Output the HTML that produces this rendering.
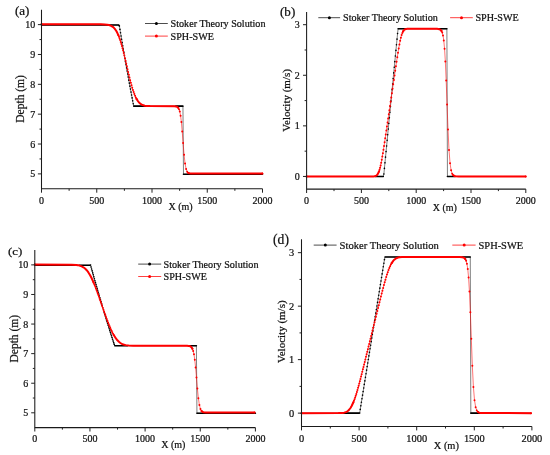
<!DOCTYPE html>
<html><head><meta charset="utf-8"><style>
html,body{margin:0;padding:0;background:#fff;}
svg{display:block;}
text{stroke:#111;stroke-width:0.22px;}
</style></head><body>
<svg width="550" height="455" viewBox="0 0 550 455">
<rect width="550" height="455" fill="#fff"/>
<polyline points="41.5,25.02 42.05,25.02 42.6,25.02 43.16,25.02 43.71,25.02 44.26,25.02 44.81,25.02 45.37,25.02 45.92,25.02 46.47,25.02 47.02,25.02 47.58,25.02 48.13,25.02 48.68,25.02 49.23,25.02 49.79,25.02 50.34,25.02 50.89,25.02 51.45,25.02 52,25.02 52.55,25.02 53.1,25.02 53.66,25.02 54.21,25.02 54.76,25.02 55.31,25.02 55.87,25.02 56.42,25.02 56.97,25.02 57.52,25.02 58.08,25.02 58.63,25.02 59.18,25.02 59.73,25.02 60.28,25.02 60.84,25.02 61.39,25.02 61.94,25.02 62.5,25.02 63.05,25.02 63.6,25.02 64.15,25.02 64.7,25.02 65.26,25.02 65.81,25.02 66.36,25.02 66.91,25.02 67.47,25.02 68.02,25.02 68.57,25.02 69.12,25.02 69.68,25.02 70.23,25.02 70.78,25.02 71.34,25.02 71.89,25.02 72.44,25.02 72.99,25.02 73.55,25.02 74.1,25.02 74.65,25.02 75.2,25.02 75.75,25.02 76.31,25.02 76.86,25.02 77.41,25.02 77.97,25.02 78.52,25.02 79.07,25.02 79.62,25.02 80.17,25.02 80.73,25.02 81.28,25.02 81.83,25.02 82.38,25.02 82.94,25.02 83.49,25.02 84.04,25.02 84.59,25.02 85.15,25.02 85.7,25.02 86.25,25.02 86.81,25.02 87.36,25.02 87.91,25.02 88.46,25.02 89.02,25.02 89.57,25.02 90.12,25.02 90.67,25.02 91.22,25.02 91.78,25.02 92.33,25.02 92.88,25.02 93.44,25.02 93.99,25.02 94.54,25.02 95.09,25.02 95.65,25.02 96.2,25.02 96.75,25.02 97.3,25.02 97.85,25.02 98.41,25.02 98.96,25.02 99.51,25.02 100.06,25.02 100.62,25.02 101.17,25.02 101.72,25.02 102.28,25.02 102.83,25.02 103.38,25.02 103.93,25.02 104.48,25.02 105.04,25.02 105.59,25.02 106.14,25.02 106.69,25.02 107.25,25.02 107.8,25.02 108.35,25.02 108.91,25.02 109.46,25.02 110.01,25.02 110.56,25.02 111.11,25.02 111.67,25.02 112.22,25.02 112.77,25.02 113.33,25.02 113.88,25.02 114.43,25.02 114.98,25.02 115.53,25.02 116.09,25.02 116.64,25.02 117.19,25.02 117.75,25.02 118.3,25.02 118.85,25.02 119.4,26.05 119.95,29.39 120.51,32.7 121.06,35.99 121.61,39.27 122.17,42.52 122.72,45.76 123.27,48.98 123.82,52.18 124.38,55.36 124.93,58.52 125.48,61.66 126.03,64.79 126.58,67.89 127.14,70.98 127.69,74.05 128.24,77.1 128.8,80.13 129.35,83.14 129.9,86.14 130.45,89.11 131,92.07 131.56,95 132.11,97.92 132.66,100.82 133.22,103.7 133.77,106.14 134.32,106.14 134.87,106.14 135.43,106.14 135.98,106.14 136.53,106.14 137.08,106.14 137.63,106.14 138.19,106.14 138.74,106.14 139.29,106.14 139.84,106.14 140.4,106.14 140.95,106.14 141.5,106.14 142.06,106.14 142.61,106.14 143.16,106.14 143.71,106.14 144.26,106.14 144.82,106.14 145.37,106.14 145.92,106.14 146.47,106.14 147.03,106.14 147.58,106.14 148.13,106.14 148.69,106.14 149.24,106.14 149.79,106.14 150.34,106.14 150.89,106.14 151.45,106.14 152,106.14 152.55,106.14 153.11,106.14 153.66,106.14 154.21,106.14 154.76,106.14 155.31,106.14 155.87,106.14 156.42,106.14 156.97,106.14 157.53,106.14 158.08,106.14 158.63,106.14 159.18,106.14 159.74,106.14 160.29,106.14 160.84,106.14 161.39,106.14 161.94,106.14 162.5,106.14 163.05,106.14 163.6,106.14 164.16,106.14 164.71,106.14 165.26,106.14 165.81,106.14 166.37,106.14 166.92,106.14 167.47,106.14 168.02,106.14 168.57,106.14 169.13,106.14 169.68,106.14 170.23,106.14 170.78,106.14 171.34,106.14 171.89,106.14 172.44,106.14 173,106.14 173.55,106.14 174.1,106.14 174.65,106.14 175.21,106.14 175.76,106.14 176.31,106.14 176.86,106.14 177.41,106.14 177.97,106.14 178.52,106.14 179.07,106.14 179.62,106.14 180.18,106.14 180.73,106.14 181.28,106.14 181.84,106.14 182.39,106.14 182.94,106.14 183.49,174.28 184.04,174.28 184.6,174.28 185.15,174.28 185.7,174.28 186.25,174.28 186.81,174.28 187.36,174.28 187.91,174.28 188.47,174.28 189.02,174.28 189.57,174.28 190.12,174.28 190.68,174.28 191.23,174.28 191.78,174.28 192.33,174.28 192.88,174.28 193.44,174.28 193.99,174.28 194.54,174.28 195.09,174.28 195.65,174.28 196.2,174.28 196.75,174.28 197.31,174.28 197.86,174.28 198.41,174.28 198.96,174.28 199.51,174.28 200.07,174.28 200.62,174.28 201.17,174.28 201.72,174.28 202.28,174.28 202.83,174.28 203.38,174.28 203.94,174.28 204.49,174.28 205.04,174.28 205.59,174.28 206.15,174.28 206.7,174.28 207.25,174.28 207.8,174.28 208.35,174.28 208.91,174.28 209.46,174.28 210.01,174.28 210.56,174.28 211.12,174.28 211.67,174.28 212.22,174.28 212.78,174.28 213.33,174.28 213.88,174.28 214.43,174.28 214.99,174.28 215.54,174.28 216.09,174.28 216.64,174.28 217.19,174.28 217.75,174.28 218.3,174.28 218.85,174.28 219.41,174.28 219.96,174.28 220.51,174.28 221.06,174.28 221.62,174.28 222.17,174.28 222.72,174.28 223.27,174.28 223.82,174.28 224.38,174.28 224.93,174.28 225.48,174.28 226.03,174.28 226.59,174.28 227.14,174.28 227.69,174.28 228.25,174.28 228.8,174.28 229.35,174.28 229.9,174.28 230.46,174.28 231.01,174.28 231.56,174.28 232.11,174.28 232.66,174.28 233.22,174.28 233.77,174.28 234.32,174.28 234.88,174.28 235.43,174.28 235.98,174.28 236.53,174.28 237.09,174.28 237.64,174.28 238.19,174.28 238.74,174.28 239.29,174.28 239.85,174.28 240.4,174.28 240.95,174.28 241.5,174.28 242.06,174.28 242.61,174.28 243.16,174.28 243.72,174.28 244.27,174.28 244.82,174.28 245.37,174.28 245.93,174.28 246.48,174.28 247.03,174.28 247.58,174.28 248.13,174.28 248.69,174.28 249.24,174.28 249.79,174.28 250.34,174.28 250.9,174.28 251.45,174.28 252,174.28 252.56,174.28 253.11,174.28 253.66,174.28 254.21,174.28 254.76,174.28 255.32,174.28 255.87,174.28 256.42,174.28 256.98,174.28 257.53,174.28 258.08,174.28 258.63,174.28 259.19,174.28 259.74,174.28 260.29,174.28 260.84,174.28 261.39,174.28 261.95,174.28 262.5,174.28" fill="none" stroke="#000" stroke-width="0.5"/>
<path d="M41.5 25.02 107.8 25.02M109.46 25.02 118.85 25.02 119.4 26.05M133.77 106.14 145.92 106.14M175.76 106.14 182.94 106.14M183.49 174.28 262.5 174.28" fill="none" stroke="#000" stroke-width="1.6" stroke-linecap="round" stroke-linejoin="round"/>
<path d="M119.14 29.39a0.82 0.82 0 1 0 1.64 0a0.82 0.82 0 1 0 -1.64 0M119.69 32.7a0.82 0.82 0 1 0 1.64 0a0.82 0.82 0 1 0 -1.64 0M120.24 35.99a0.82 0.82 0 1 0 1.64 0a0.82 0.82 0 1 0 -1.64 0M120.79 39.27a0.82 0.82 0 1 0 1.64 0a0.82 0.82 0 1 0 -1.64 0M121.35 42.52a0.82 0.82 0 1 0 1.64 0a0.82 0.82 0 1 0 -1.64 0M121.9 45.76a0.82 0.82 0 1 0 1.64 0a0.82 0.82 0 1 0 -1.64 0M122.45 48.98a0.82 0.82 0 1 0 1.64 0a0.82 0.82 0 1 0 -1.64 0M123 52.18a0.82 0.82 0 1 0 1.64 0a0.82 0.82 0 1 0 -1.64 0M124.11 58.52a0.82 0.82 0 1 0 1.64 0a0.82 0.82 0 1 0 -1.64 0M124.66 61.66a0.82 0.82 0 1 0 1.64 0a0.82 0.82 0 1 0 -1.64 0M125.21 64.79a0.82 0.82 0 1 0 1.64 0a0.82 0.82 0 1 0 -1.64 0M125.77 67.89a0.82 0.82 0 1 0 1.64 0a0.82 0.82 0 1 0 -1.64 0M126.32 70.98a0.82 0.82 0 1 0 1.64 0a0.82 0.82 0 1 0 -1.64 0M126.87 74.05a0.82 0.82 0 1 0 1.64 0a0.82 0.82 0 1 0 -1.64 0M127.42 77.1a0.82 0.82 0 1 0 1.64 0a0.82 0.82 0 1 0 -1.64 0M127.98 80.13a0.82 0.82 0 1 0 1.64 0a0.82 0.82 0 1 0 -1.64 0M128.53 83.14a0.82 0.82 0 1 0 1.64 0a0.82 0.82 0 1 0 -1.64 0M129.08 86.14a0.82 0.82 0 1 0 1.64 0a0.82 0.82 0 1 0 -1.64 0M129.63 89.11a0.82 0.82 0 1 0 1.64 0a0.82 0.82 0 1 0 -1.64 0M130.19 92.07a0.82 0.82 0 1 0 1.64 0a0.82 0.82 0 1 0 -1.64 0M130.74 95a0.82 0.82 0 1 0 1.64 0a0.82 0.82 0 1 0 -1.64 0M131.29 97.92a0.82 0.82 0 1 0 1.64 0a0.82 0.82 0 1 0 -1.64 0M131.84 100.82a0.82 0.82 0 1 0 1.64 0a0.82 0.82 0 1 0 -1.64 0M132.4 103.7a0.82 0.82 0 1 0 1.64 0a0.82 0.82 0 1 0 -1.64 0" fill="#000"/>
<polyline points="41.5,24.32 42.05,24.32 42.6,24.33 43.16,24.33 43.71,24.32 44.26,24.33 44.81,24.33 45.37,24.32 45.92,24.32 46.47,24.33 47.02,24.32 47.58,24.32 48.13,24.32 48.68,24.32 49.23,24.32 49.79,24.33 50.34,24.32 50.89,24.32 51.45,24.33 52,24.32 52.55,24.33 53.1,24.33 53.66,24.32 54.21,24.32 54.76,24.32 55.31,24.32 55.87,24.32 56.42,24.32 56.97,24.32 57.52,24.33 58.08,24.32 58.63,24.32 59.18,24.32 59.73,24.33 60.28,24.32 60.84,24.32 61.39,24.32 61.94,24.32 62.5,24.32 63.05,24.32 63.6,24.32 64.15,24.32 64.7,24.32 65.26,24.32 65.81,24.32 66.36,24.32 66.91,24.32 67.47,24.32 68.02,24.33 68.57,24.32 69.12,24.33 69.68,24.33 70.23,24.32 70.78,24.32 71.34,24.32 71.89,24.33 72.44,24.33 72.99,24.32 73.55,24.32 74.1,24.33 74.65,24.32 75.2,24.33 75.75,24.33 76.31,24.33 76.86,24.33 77.41,24.33 77.97,24.33 78.52,24.33 79.07,24.33 79.62,24.33 80.18,24.33 80.73,24.33 81.28,24.33 81.83,24.33 82.39,24.33 82.94,24.33 83.49,24.33 84.04,24.33 84.6,24.33 85.15,24.33 85.7,24.33 86.25,24.33 86.81,24.33 87.36,24.33 87.91,24.33 88.46,24.33 89.02,24.33 89.57,24.33 90.12,24.33 90.67,24.33 91.23,24.33 91.78,24.33 92.33,24.33 92.88,24.33 93.44,24.33 93.99,24.33 94.54,24.33 95.09,24.33 95.65,24.33 96.2,24.33 96.75,24.33 97.3,24.33 97.86,24.33 98.41,24.33 98.96,24.33 99.51,24.33 100.07,24.33 100.62,24.33 101.17,24.34 101.72,24.34 102.28,24.35 102.83,24.36 103.38,24.37 103.93,24.39 104.49,24.41 105.04,24.44 105.59,24.48 106.14,24.52 106.7,24.58 107.25,24.66 107.8,24.75 108.36,24.87 108.91,25.02 109.46,25.2 110.02,25.41 110.57,25.63 111.12,25.87 111.68,26.15 112.24,26.48 112.79,26.86 113.35,27.31 113.91,27.83 114.47,28.43 115.03,29.11 115.59,29.89 116.15,30.76 116.72,31.74 117.28,32.83 117.85,34.04 118.42,35.37 119,36.82 119.58,38.4 120.16,40.11 120.74,41.96 121.33,43.92 121.92,46.02 122.52,48.23 123.12,50.56 123.73,53 124.34,55.53 124.96,58.14 125.59,60.83 126.22,63.58 126.86,66.36 127.51,69.17 128.16,71.98 128.82,74.77 129.49,77.52 130.16,80.22 130.85,82.83 131.54,85.35 132.23,87.74 132.94,90 133.65,92.11 134.36,94.06 135.09,95.84 135.82,97.45 136.55,98.89 137.29,100.15 138.03,101.25 138.77,102.19 139.52,102.99 140.27,103.65 141.02,104.2 141.78,104.65 142.53,105.01 143.29,105.29 144.05,105.51 144.81,105.68 145.56,105.81 146.32,105.9 147.08,105.97 147.84,106.02 148.6,106.06 149.36,106.09 150.12,106.1 150.88,106.12 151.64,106.12 152.4,106.13 153.16,106.13 153.92,106.14 154.68,106.14 155.44,106.14 156.2,106.14 156.96,106.14 157.72,106.14 158.48,106.14 159.24,106.14 160,106.14 160.76,106.14 161.52,106.14 162.28,106.14 163.04,106.14 163.8,106.14 164.56,106.14 165.32,106.14 166.08,106.14 166.84,106.14 167.6,106.14 168.36,106.14 169.12,106.14 169.88,106.14 170.64,106.14 171.4,106.15 172.16,106.15 172.92,106.17 173.68,106.19 174.44,106.23 175.2,106.3 175.96,106.43 176.73,106.67 177.49,107.1 178.25,107.86 179.02,109.23 179.8,111.62 180.58,115.66 181.39,122.11 182.23,131.46 183.12,143.08 184.06,154.68 185.07,163.6 186.12,168.97 187.21,171.69 188.3,172.93 189.4,173.31 190.5,173.46 191.61,173.53 192.71,173.56 193.82,173.57 194.92,173.57 196.03,173.57 197.13,173.57 198.24,173.57 199.34,173.57 200.45,173.57 201.55,173.57 202.66,173.57 203.76,173.57 204.87,173.57 205.97,173.57 207.08,173.57 208.18,173.57 209.29,173.57 210.39,173.57 211.5,173.57 212.6,173.57 213.71,173.57 214.81,173.57 215.92,173.57 217.02,173.57 218.13,173.57 219.23,173.57 220.34,173.57 221.44,173.57 222.55,173.57 223.65,173.57 224.76,173.57 225.86,173.57 226.97,173.57 228.07,173.57 229.18,173.57 230.28,173.57 231.39,173.57 232.49,173.57 233.6,173.57 234.7,173.57 235.81,173.57 236.91,173.57 238.02,173.57 239.12,173.57 240.23,173.57 241.33,173.57 242.44,173.57 243.54,173.57 244.65,173.57 245.75,173.57 246.86,173.57 247.96,173.57 249.07,173.57 250.17,173.57 251.28,173.57 252.38,173.57 253.49,173.57 254.59,173.57 255.7,173.57 256.8,173.57 257.91,173.57 259.01,173.57 260.12,173.57 261.22,173.57 262.33,173.57" fill="none" stroke="#f00" stroke-width="0.55"/>
<path d="M41.5 24.32 100.62 24.33 104.49 24.41 107.25 24.66 108.91 25.02 111.12 25.87 112.79 26.86 113.91 27.83 115.03 29.11 116.15 30.76 117.28 32.83 118.42 35.37M136.55 98.89 138.03 101.25 138.77 102.19 140.27 103.65 141.02 104.2 142.53 105.01 144.81 105.68 147.08 105.97 150.12 106.1 174.44 106.23 175.96 106.43 176.73 106.67 177.49 107.1 178.25 107.86M188.3 172.93 189.4 173.31 190.5 173.46 193.82 173.57 262.33 173.57" fill="none" stroke="#f00" stroke-width="2" stroke-linecap="round" stroke-linejoin="round"/>
<path d="M40.5 24.32a1.0 1.0 0 1 0 2.0 0a1.0 1.0 0 1 0 -2.0 0M117.42 35.37a1.0 1.0 0 1 0 2.0 0a1.0 1.0 0 1 0 -2.0 0M118 36.82a1.0 1.0 0 1 0 2.0 0a1.0 1.0 0 1 0 -2.0 0M118.58 38.4a1.0 1.0 0 1 0 2.0 0a1.0 1.0 0 1 0 -2.0 0M119.16 40.11a1.0 1.0 0 1 0 2.0 0a1.0 1.0 0 1 0 -2.0 0M119.74 41.96a1.0 1.0 0 1 0 2.0 0a1.0 1.0 0 1 0 -2.0 0M120.33 43.92a1.0 1.0 0 1 0 2.0 0a1.0 1.0 0 1 0 -2.0 0M120.92 46.02a1.0 1.0 0 1 0 2.0 0a1.0 1.0 0 1 0 -2.0 0M121.52 48.23a1.0 1.0 0 1 0 2.0 0a1.0 1.0 0 1 0 -2.0 0M122.12 50.56a1.0 1.0 0 1 0 2.0 0a1.0 1.0 0 1 0 -2.0 0M122.73 53a1.0 1.0 0 1 0 2.0 0a1.0 1.0 0 1 0 -2.0 0M123.34 55.53a1.0 1.0 0 1 0 2.0 0a1.0 1.0 0 1 0 -2.0 0M123.96 58.14a1.0 1.0 0 1 0 2.0 0a1.0 1.0 0 1 0 -2.0 0M124.59 60.83a1.0 1.0 0 1 0 2.0 0a1.0 1.0 0 1 0 -2.0 0M125.22 63.58a1.0 1.0 0 1 0 2.0 0a1.0 1.0 0 1 0 -2.0 0M125.86 66.36a1.0 1.0 0 1 0 2.0 0a1.0 1.0 0 1 0 -2.0 0M126.51 69.17a1.0 1.0 0 1 0 2.0 0a1.0 1.0 0 1 0 -2.0 0M127.16 71.98a1.0 1.0 0 1 0 2.0 0a1.0 1.0 0 1 0 -2.0 0M127.82 74.77a1.0 1.0 0 1 0 2.0 0a1.0 1.0 0 1 0 -2.0 0M128.49 77.52a1.0 1.0 0 1 0 2.0 0a1.0 1.0 0 1 0 -2.0 0M129.16 80.22a1.0 1.0 0 1 0 2.0 0a1.0 1.0 0 1 0 -2.0 0M129.85 82.83a1.0 1.0 0 1 0 2.0 0a1.0 1.0 0 1 0 -2.0 0M130.54 85.35a1.0 1.0 0 1 0 2.0 0a1.0 1.0 0 1 0 -2.0 0M131.23 87.74a1.0 1.0 0 1 0 2.0 0a1.0 1.0 0 1 0 -2.0 0M131.94 90a1.0 1.0 0 1 0 2.0 0a1.0 1.0 0 1 0 -2.0 0M132.65 92.11a1.0 1.0 0 1 0 2.0 0a1.0 1.0 0 1 0 -2.0 0M133.36 94.06a1.0 1.0 0 1 0 2.0 0a1.0 1.0 0 1 0 -2.0 0M134.09 95.84a1.0 1.0 0 1 0 2.0 0a1.0 1.0 0 1 0 -2.0 0M134.82 97.45a1.0 1.0 0 1 0 2.0 0a1.0 1.0 0 1 0 -2.0 0M135.55 98.89a1.0 1.0 0 1 0 2.0 0a1.0 1.0 0 1 0 -2.0 0M177.25 107.86a1.0 1.0 0 1 0 2.0 0a1.0 1.0 0 1 0 -2.0 0M178.02 109.23a1.0 1.0 0 1 0 2.0 0a1.0 1.0 0 1 0 -2.0 0M178.8 111.62a1.0 1.0 0 1 0 2.0 0a1.0 1.0 0 1 0 -2.0 0M179.58 115.66a1.0 1.0 0 1 0 2.0 0a1.0 1.0 0 1 0 -2.0 0M180.39 122.11a1.0 1.0 0 1 0 2.0 0a1.0 1.0 0 1 0 -2.0 0M181.23 131.46a1.0 1.0 0 1 0 2.0 0a1.0 1.0 0 1 0 -2.0 0M182.12 143.08a1.0 1.0 0 1 0 2.0 0a1.0 1.0 0 1 0 -2.0 0M183.06 154.68a1.0 1.0 0 1 0 2.0 0a1.0 1.0 0 1 0 -2.0 0M184.07 163.6a1.0 1.0 0 1 0 2.0 0a1.0 1.0 0 1 0 -2.0 0M185.12 168.97a1.0 1.0 0 1 0 2.0 0a1.0 1.0 0 1 0 -2.0 0M186.21 171.69a1.0 1.0 0 1 0 2.0 0a1.0 1.0 0 1 0 -2.0 0M187.3 172.93a1.0 1.0 0 1 0 2.0 0a1.0 1.0 0 1 0 -2.0 0M261.33 173.57a1.0 1.0 0 1 0 2.0 0a1.0 1.0 0 1 0 -2.0 0" fill="#f00"/>
<path d="M41.5 9.7V188.8H262.5" fill="none" stroke="#1a1a1a" stroke-width="1.05"/>
<path d="M41.5 188.8v3.9M69.12 188.8v2.0M96.75 188.8v3.9M124.38 188.8v2.0M152 188.8v3.9M179.62 188.8v2.0M207.25 188.8v3.9M234.88 188.8v2.0M262.5 188.8v3.9M41.5 173.88h-3.6M41.5 158.95h-2.0M41.5 144.03h-3.6M41.5 129.1h-2.0M41.5 114.17h-3.6M41.5 99.25h-2.0M41.5 84.32h-3.6M41.5 69.4h-2.0M41.5 54.47h-3.6M41.5 39.55h-2.0M41.5 24.62h-3.6" fill="none" stroke="#222" stroke-width="1"/>
<g font-family="Liberation Serif, Times New Roman, serif" font-size="10" fill="#111"><text x="41.5" y="203.6" text-anchor="middle">0</text><text x="96.75" y="203.6" text-anchor="middle">500</text><text x="152" y="203.6" text-anchor="middle">1000</text><text x="207.25" y="203.6" text-anchor="middle">1500</text><text x="262.5" y="203.6" text-anchor="middle">2000</text><text x="35.3" y="177.38" text-anchor="end">5</text><text x="35.3" y="147.53" text-anchor="end">6</text><text x="35.3" y="117.67" text-anchor="end">7</text><text x="35.3" y="87.82" text-anchor="end">8</text><text x="35.3" y="57.97" text-anchor="end">9</text><text x="35.3" y="28.12" text-anchor="end">10</text></g>
<polyline points="306.6,176.45 307.15,176.45 307.7,176.45 308.24,176.45 308.79,176.45 309.34,176.45 309.89,176.45 310.44,176.45 310.98,176.45 311.53,176.45 312.08,176.45 312.63,176.45 313.18,176.45 313.72,176.45 314.27,176.45 314.82,176.45 315.37,176.45 315.92,176.45 316.46,176.45 317.01,176.45 317.56,176.45 318.11,176.45 318.66,176.45 319.2,176.45 319.75,176.45 320.3,176.45 320.85,176.45 321.4,176.45 321.94,176.45 322.49,176.45 323.04,176.45 323.59,176.45 324.14,176.45 324.68,176.45 325.23,176.45 325.78,176.45 326.33,176.45 326.88,176.45 327.42,176.45 327.97,176.45 328.52,176.45 329.07,176.45 329.62,176.45 330.16,176.45 330.71,176.45 331.26,176.45 331.81,176.45 332.36,176.45 332.9,176.45 333.45,176.45 334,176.45 334.55,176.45 335.1,176.45 335.64,176.45 336.19,176.45 336.74,176.45 337.29,176.45 337.84,176.45 338.38,176.45 338.93,176.45 339.48,176.45 340.03,176.45 340.58,176.45 341.12,176.45 341.67,176.45 342.22,176.45 342.77,176.45 343.32,176.45 343.86,176.45 344.41,176.45 344.96,176.45 345.51,176.45 346.06,176.45 346.6,176.45 347.15,176.45 347.7,176.45 348.25,176.45 348.8,176.45 349.34,176.45 349.89,176.45 350.44,176.45 350.99,176.45 351.54,176.45 352.08,176.45 352.63,176.45 353.18,176.45 353.73,176.45 354.28,176.45 354.82,176.45 355.37,176.45 355.92,176.45 356.47,176.45 357.02,176.45 357.56,176.45 358.11,176.45 358.66,176.45 359.21,176.45 359.76,176.45 360.3,176.45 360.85,176.45 361.4,176.45 361.95,176.45 362.5,176.45 363.04,176.45 363.59,176.45 364.14,176.45 364.69,176.45 365.24,176.45 365.78,176.45 366.33,176.45 366.88,176.45 367.43,176.45 367.98,176.45 368.52,176.45 369.07,176.45 369.62,176.45 370.17,176.45 370.72,176.45 371.26,176.45 371.81,176.45 372.36,176.45 372.91,176.45 373.46,176.45 374,176.45 374.55,176.45 375.1,176.45 375.65,176.45 376.2,176.45 376.74,176.45 377.29,176.45 377.84,176.45 378.39,176.45 378.94,176.45 379.48,176.45 380.03,176.45 380.58,176.45 381.13,176.45 381.68,176.45 382.22,176.45 382.77,176.45 383.32,176.45 383.87,174.05 384.42,168.43 384.96,162.81 385.51,157.19 386.06,151.57 386.61,145.95 387.16,140.33 387.7,134.71 388.25,129.09 388.8,123.47 389.35,117.85 389.9,112.23 390.44,106.6 390.99,100.98 391.54,95.36 392.09,89.74 392.64,84.12 393.18,78.5 393.73,72.88 394.28,67.26 394.83,61.64 395.38,56.02 395.92,50.4 396.47,44.78 397.02,39.16 397.57,33.54 398.12,28.75 398.66,28.75 399.21,28.75 399.76,28.75 400.31,28.75 400.86,28.75 401.4,28.75 401.95,28.75 402.5,28.75 403.05,28.75 403.6,28.75 404.14,28.75 404.69,28.75 405.24,28.75 405.79,28.75 406.34,28.75 406.88,28.75 407.43,28.75 407.98,28.75 408.53,28.75 409.08,28.75 409.62,28.75 410.17,28.75 410.72,28.75 411.27,28.75 411.82,28.75 412.36,28.75 412.91,28.75 413.46,28.75 414.01,28.75 414.56,28.75 415.1,28.75 415.65,28.75 416.2,28.75 416.75,28.75 417.3,28.75 417.84,28.75 418.39,28.75 418.94,28.75 419.49,28.75 420.04,28.75 420.58,28.75 421.13,28.75 421.68,28.75 422.23,28.75 422.78,28.75 423.32,28.75 423.87,28.75 424.42,28.75 424.97,28.75 425.52,28.75 426.06,28.75 426.61,28.75 427.16,28.75 427.71,28.75 428.26,28.75 428.8,28.75 429.35,28.75 429.9,28.75 430.45,28.75 431,28.75 431.54,28.75 432.09,28.75 432.64,28.75 433.19,28.75 433.74,28.75 434.28,28.75 434.83,28.75 435.38,28.75 435.93,28.75 436.48,28.75 437.02,28.75 437.57,28.75 438.12,28.75 438.67,28.75 439.22,28.75 439.76,28.75 440.31,28.75 440.86,28.75 441.41,28.75 441.96,28.75 442.5,28.75 443.05,28.75 443.6,28.75 444.15,28.75 444.7,28.75 445.24,28.75 445.79,28.75 446.34,28.75 446.89,28.75 447.44,176.45 447.98,176.45 448.53,176.45 449.08,176.45 449.63,176.45 450.18,176.45 450.72,176.45 451.27,176.45 451.82,176.45 452.37,176.45 452.92,176.45 453.46,176.45 454.01,176.45 454.56,176.45 455.11,176.45 455.66,176.45 456.2,176.45 456.75,176.45 457.3,176.45 457.85,176.45 458.4,176.45 458.94,176.45 459.49,176.45 460.04,176.45 460.59,176.45 461.14,176.45 461.68,176.45 462.23,176.45 462.78,176.45 463.33,176.45 463.88,176.45 464.42,176.45 464.97,176.45 465.52,176.45 466.07,176.45 466.62,176.45 467.16,176.45 467.71,176.45 468.26,176.45 468.81,176.45 469.36,176.45 469.9,176.45 470.45,176.45 471,176.45 471.55,176.45 472.1,176.45 472.64,176.45 473.19,176.45 473.74,176.45 474.29,176.45 474.84,176.45 475.38,176.45 475.93,176.45 476.48,176.45 477.03,176.45 477.58,176.45 478.12,176.45 478.67,176.45 479.22,176.45 479.77,176.45 480.32,176.45 480.86,176.45 481.41,176.45 481.96,176.45 482.51,176.45 483.06,176.45 483.6,176.45 484.15,176.45 484.7,176.45 485.25,176.45 485.8,176.45 486.34,176.45 486.89,176.45 487.44,176.45 487.99,176.45 488.54,176.45 489.08,176.45 489.63,176.45 490.18,176.45 490.73,176.45 491.28,176.45 491.82,176.45 492.37,176.45 492.92,176.45 493.47,176.45 494.02,176.45 494.56,176.45 495.11,176.45 495.66,176.45 496.21,176.45 496.76,176.45 497.3,176.45 497.85,176.45 498.4,176.45 498.95,176.45 499.5,176.45 500.04,176.45 500.59,176.45 501.14,176.45 501.69,176.45 502.24,176.45 502.78,176.45 503.33,176.45 503.88,176.45 504.43,176.45 504.98,176.45 505.52,176.45 506.07,176.45 506.62,176.45 507.17,176.45 507.72,176.45 508.26,176.45 508.81,176.45 509.36,176.45 509.91,176.45 510.46,176.45 511,176.45 511.55,176.45 512.1,176.45 512.65,176.45 513.2,176.45 513.74,176.45 514.29,176.45 514.84,176.45 515.39,176.45 515.94,176.45 516.48,176.45 517.03,176.45 517.58,176.45 518.13,176.45 518.68,176.45 519.22,176.45 519.77,176.45 520.32,176.45 520.87,176.45 521.42,176.45 521.96,176.45 522.51,176.45 523.06,176.45 523.61,176.45 524.16,176.45 524.7,176.45 525.25,176.45 525.8,176.45" fill="none" stroke="#000" stroke-width="0.5"/>
<path d="M375.1 176.45 383.32 176.45M398.12 28.75 405.79 28.75M438.67 28.75 446.89 28.75M447.44 176.45 455.11 176.45" fill="none" stroke="#000" stroke-width="1.6" stroke-linecap="round" stroke-linejoin="round"/>
<path d="M383.05 174.05a0.82 0.82 0 1 0 1.64 0a0.82 0.82 0 1 0 -1.64 0M383.6 168.43a0.82 0.82 0 1 0 1.64 0a0.82 0.82 0 1 0 -1.64 0M384.14 162.81a0.82 0.82 0 1 0 1.64 0a0.82 0.82 0 1 0 -1.64 0M384.69 157.19a0.82 0.82 0 1 0 1.64 0a0.82 0.82 0 1 0 -1.64 0M385.24 151.57a0.82 0.82 0 1 0 1.64 0a0.82 0.82 0 1 0 -1.64 0M385.79 145.95a0.82 0.82 0 1 0 1.64 0a0.82 0.82 0 1 0 -1.64 0M386.34 140.33a0.82 0.82 0 1 0 1.64 0a0.82 0.82 0 1 0 -1.64 0M386.88 134.71a0.82 0.82 0 1 0 1.64 0a0.82 0.82 0 1 0 -1.64 0M387.43 129.09a0.82 0.82 0 1 0 1.64 0a0.82 0.82 0 1 0 -1.64 0M387.98 123.47a0.82 0.82 0 1 0 1.64 0a0.82 0.82 0 1 0 -1.64 0M388.53 117.85a0.82 0.82 0 1 0 1.64 0a0.82 0.82 0 1 0 -1.64 0M389.08 112.23a0.82 0.82 0 1 0 1.64 0a0.82 0.82 0 1 0 -1.64 0M389.62 106.6a0.82 0.82 0 1 0 1.64 0a0.82 0.82 0 1 0 -1.64 0M390.17 100.98a0.82 0.82 0 1 0 1.64 0a0.82 0.82 0 1 0 -1.64 0M391.27 89.74a0.82 0.82 0 1 0 1.64 0a0.82 0.82 0 1 0 -1.64 0M391.82 84.12a0.82 0.82 0 1 0 1.64 0a0.82 0.82 0 1 0 -1.64 0M392.36 78.5a0.82 0.82 0 1 0 1.64 0a0.82 0.82 0 1 0 -1.64 0M392.91 72.88a0.82 0.82 0 1 0 1.64 0a0.82 0.82 0 1 0 -1.64 0M393.46 67.26a0.82 0.82 0 1 0 1.64 0a0.82 0.82 0 1 0 -1.64 0M394.01 61.64a0.82 0.82 0 1 0 1.64 0a0.82 0.82 0 1 0 -1.64 0M394.56 56.02a0.82 0.82 0 1 0 1.64 0a0.82 0.82 0 1 0 -1.64 0M395.1 50.4a0.82 0.82 0 1 0 1.64 0a0.82 0.82 0 1 0 -1.64 0M395.65 44.78a0.82 0.82 0 1 0 1.64 0a0.82 0.82 0 1 0 -1.64 0M396.2 39.16a0.82 0.82 0 1 0 1.64 0a0.82 0.82 0 1 0 -1.64 0M396.75 33.54a0.82 0.82 0 1 0 1.64 0a0.82 0.82 0 1 0 -1.64 0" fill="#000"/>
<polyline points="306.6,176.45 307.15,176.45 307.7,176.45 308.24,176.45 308.79,176.45 309.34,176.45 309.89,176.45 310.44,176.45 310.98,176.45 311.53,176.45 312.08,176.45 312.63,176.45 313.18,176.45 313.72,176.45 314.27,176.45 314.82,176.45 315.37,176.45 315.92,176.45 316.46,176.45 317.01,176.45 317.56,176.45 318.11,176.45 318.66,176.45 319.2,176.45 319.75,176.45 320.3,176.45 320.85,176.45 321.4,176.45 321.94,176.45 322.49,176.45 323.04,176.45 323.59,176.45 324.14,176.45 324.68,176.45 325.23,176.45 325.78,176.45 326.33,176.45 326.88,176.45 327.42,176.45 327.97,176.45 328.52,176.45 329.07,176.45 329.62,176.45 330.16,176.45 330.71,176.45 331.26,176.45 331.81,176.45 332.36,176.45 332.9,176.45 333.45,176.45 334,176.45 334.55,176.45 335.1,176.45 335.64,176.45 336.19,176.45 336.74,176.45 337.29,176.45 337.84,176.45 338.38,176.45 338.93,176.45 339.48,176.45 340.03,176.45 340.58,176.45 341.12,176.45 341.67,176.45 342.22,176.45 342.77,176.45 343.32,176.45 343.86,176.45 344.41,176.45 344.96,176.45 345.51,176.45 346.06,176.45 346.6,176.45 347.15,176.45 347.7,176.45 348.25,176.45 348.8,176.45 349.34,176.45 349.89,176.45 350.44,176.45 350.99,176.45 351.54,176.45 352.08,176.45 352.63,176.45 353.18,176.45 353.73,176.45 354.28,176.45 354.82,176.45 355.37,176.45 355.92,176.45 356.47,176.45 357.02,176.45 357.56,176.45 358.11,176.45 358.66,176.45 359.21,176.45 359.76,176.45 360.3,176.45 360.85,176.45 361.4,176.45 361.95,176.45 362.5,176.45 363.04,176.45 363.59,176.45 364.14,176.45 364.69,176.45 365.24,176.45 365.78,176.45 366.33,176.45 366.88,176.45 367.43,176.45 367.98,176.45 368.52,176.45 369.07,176.45 369.62,176.45 370.17,176.45 370.72,176.45 371.27,176.45 371.81,176.45 372.36,176.44 372.91,176.43 373.46,176.41 374.01,176.37 374.56,176.3 375.11,176.19 375.66,176.01 376.21,175.73 376.76,175.31 377.31,174.72 377.86,173.91 378.42,172.84 378.97,171.47 379.53,169.78 380.08,167.75 380.64,165.4 381.2,162.73 381.77,159.78 382.33,156.59 382.9,153.2 383.47,149.65 384.04,145.97 384.62,142.19 385.2,138.35 385.78,134.45 386.37,130.5 386.96,126.51 387.56,122.48 388.16,118.42 388.77,114.31 389.38,110.17 390,105.98 390.63,101.75 391.27,97.47 391.91,93.15 392.55,88.78 393.21,84.36 393.87,79.9 394.54,75.39 395.22,70.84 395.9,66.27 396.59,61.7 397.29,57.16 398,52.72 398.71,48.45 399.42,44.45 400.15,40.82 400.87,37.65 401.61,35.02 402.34,32.95 403.08,31.4 403.82,30.33 404.57,29.63 405.31,29.21 406.06,28.97 406.81,28.85 407.56,28.79 408.31,28.76 409.06,28.75 409.82,28.75 410.57,28.75 411.32,28.75 412.08,28.75 412.83,28.75 413.58,28.75 414.34,28.75 415.09,28.75 415.84,28.75 416.6,28.75 417.35,28.75 418.11,28.75 418.86,28.75 419.61,28.75 420.37,28.75 421.12,28.75 421.87,28.75 422.63,28.75 423.38,28.75 424.14,28.75 424.89,28.75 425.64,28.75 426.4,28.75 427.15,28.75 427.91,28.75 428.66,28.75 429.41,28.75 430.17,28.75 430.92,28.75 431.68,28.75 432.43,28.75 433.18,28.75 433.94,28.75 434.69,28.76 435.44,28.77 436.2,28.79 436.95,28.82 437.71,28.87 438.46,28.97 439.21,29.14 439.97,29.45 440.72,29.99 441.48,30.94 442.24,32.61 443,35.5 443.77,40.44 444.55,48.63 445.35,61.58 446.18,80.43 447.06,104.43 448,129.52 449,150.04 450.05,163.22 451.12,170.29 452.2,173.69 453.3,175.23 454.39,175.92 455.48,176.22 456.58,176.35 457.68,176.41 458.77,176.43 459.87,176.45 460.96,176.45 462.06,176.45 463.16,176.45 464.25,176.45 465.35,176.45 466.44,176.45 467.54,176.45 468.64,176.45 469.73,176.45 470.83,176.45 471.92,176.45 473.02,176.45 474.12,176.45 475.21,176.45 476.31,176.45 477.4,176.45 478.5,176.45 479.6,176.45 480.69,176.45 481.79,176.45 482.88,176.45 483.98,176.45 485.08,176.45 486.17,176.45 487.27,176.45 488.36,176.45 489.46,176.45 490.56,176.45 491.65,176.45 492.75,176.45 493.84,176.45 494.94,176.45 496.04,176.45 497.13,176.45 498.23,176.45 499.32,176.45 500.42,176.45 501.52,176.45 502.61,176.45 503.71,176.45 504.8,176.45 505.9,176.45 507,176.45 508.09,176.45 509.19,176.45 510.28,176.45 511.38,176.45 512.48,176.45 513.57,176.45 514.67,176.45 515.76,176.45 516.86,176.45 517.96,176.45 519.05,176.45 520.15,176.45 521.24,176.45 522.34,176.45 523.44,176.45 524.53,176.45 525.63,176.45" fill="none" stroke="#f00" stroke-width="0.55"/>
<path d="M306.6 176.45 373.46 176.41 374.56 176.3 375.66 176.01 376.76 175.31 377.86 173.91 378.97 171.47M403.08 31.4 403.82 30.33 404.57 29.63 405.31 29.21 406.81 28.85 409.06 28.75 436.95 28.82 438.46 28.97 439.97 29.45 440.72 29.99 441.48 30.94M453.3 175.23 454.39 175.92 455.48 176.22 458.77 176.43 525.63 176.45" fill="none" stroke="#f00" stroke-width="2" stroke-linecap="round" stroke-linejoin="round"/>
<path d="M305.6 176.45a1.0 1.0 0 1 0 2.0 0a1.0 1.0 0 1 0 -2.0 0M377.97 171.47a1.0 1.0 0 1 0 2.0 0a1.0 1.0 0 1 0 -2.0 0M378.53 169.78a1.0 1.0 0 1 0 2.0 0a1.0 1.0 0 1 0 -2.0 0M379.08 167.75a1.0 1.0 0 1 0 2.0 0a1.0 1.0 0 1 0 -2.0 0M379.64 165.4a1.0 1.0 0 1 0 2.0 0a1.0 1.0 0 1 0 -2.0 0M380.2 162.73a1.0 1.0 0 1 0 2.0 0a1.0 1.0 0 1 0 -2.0 0M380.77 159.78a1.0 1.0 0 1 0 2.0 0a1.0 1.0 0 1 0 -2.0 0M381.33 156.59a1.0 1.0 0 1 0 2.0 0a1.0 1.0 0 1 0 -2.0 0M381.9 153.2a1.0 1.0 0 1 0 2.0 0a1.0 1.0 0 1 0 -2.0 0M382.47 149.65a1.0 1.0 0 1 0 2.0 0a1.0 1.0 0 1 0 -2.0 0M383.04 145.97a1.0 1.0 0 1 0 2.0 0a1.0 1.0 0 1 0 -2.0 0M383.62 142.19a1.0 1.0 0 1 0 2.0 0a1.0 1.0 0 1 0 -2.0 0M384.2 138.35a1.0 1.0 0 1 0 2.0 0a1.0 1.0 0 1 0 -2.0 0M384.78 134.45a1.0 1.0 0 1 0 2.0 0a1.0 1.0 0 1 0 -2.0 0M385.37 130.5a1.0 1.0 0 1 0 2.0 0a1.0 1.0 0 1 0 -2.0 0M385.96 126.51a1.0 1.0 0 1 0 2.0 0a1.0 1.0 0 1 0 -2.0 0M386.56 122.48a1.0 1.0 0 1 0 2.0 0a1.0 1.0 0 1 0 -2.0 0M387.16 118.42a1.0 1.0 0 1 0 2.0 0a1.0 1.0 0 1 0 -2.0 0M387.77 114.31a1.0 1.0 0 1 0 2.0 0a1.0 1.0 0 1 0 -2.0 0M388.38 110.17a1.0 1.0 0 1 0 2.0 0a1.0 1.0 0 1 0 -2.0 0M389 105.98a1.0 1.0 0 1 0 2.0 0a1.0 1.0 0 1 0 -2.0 0M389.63 101.75a1.0 1.0 0 1 0 2.0 0a1.0 1.0 0 1 0 -2.0 0M390.27 97.47a1.0 1.0 0 1 0 2.0 0a1.0 1.0 0 1 0 -2.0 0M390.91 93.15a1.0 1.0 0 1 0 2.0 0a1.0 1.0 0 1 0 -2.0 0M391.55 88.78a1.0 1.0 0 1 0 2.0 0a1.0 1.0 0 1 0 -2.0 0M392.21 84.36a1.0 1.0 0 1 0 2.0 0a1.0 1.0 0 1 0 -2.0 0M392.87 79.9a1.0 1.0 0 1 0 2.0 0a1.0 1.0 0 1 0 -2.0 0M393.54 75.39a1.0 1.0 0 1 0 2.0 0a1.0 1.0 0 1 0 -2.0 0M394.22 70.84a1.0 1.0 0 1 0 2.0 0a1.0 1.0 0 1 0 -2.0 0M394.9 66.27a1.0 1.0 0 1 0 2.0 0a1.0 1.0 0 1 0 -2.0 0M395.59 61.7a1.0 1.0 0 1 0 2.0 0a1.0 1.0 0 1 0 -2.0 0M396.29 57.16a1.0 1.0 0 1 0 2.0 0a1.0 1.0 0 1 0 -2.0 0M397 52.72a1.0 1.0 0 1 0 2.0 0a1.0 1.0 0 1 0 -2.0 0M397.71 48.45a1.0 1.0 0 1 0 2.0 0a1.0 1.0 0 1 0 -2.0 0M398.42 44.45a1.0 1.0 0 1 0 2.0 0a1.0 1.0 0 1 0 -2.0 0M399.15 40.82a1.0 1.0 0 1 0 2.0 0a1.0 1.0 0 1 0 -2.0 0M399.87 37.65a1.0 1.0 0 1 0 2.0 0a1.0 1.0 0 1 0 -2.0 0M400.61 35.02a1.0 1.0 0 1 0 2.0 0a1.0 1.0 0 1 0 -2.0 0M401.34 32.95a1.0 1.0 0 1 0 2.0 0a1.0 1.0 0 1 0 -2.0 0M402.08 31.4a1.0 1.0 0 1 0 2.0 0a1.0 1.0 0 1 0 -2.0 0M440.48 30.94a1.0 1.0 0 1 0 2.0 0a1.0 1.0 0 1 0 -2.0 0M441.24 32.61a1.0 1.0 0 1 0 2.0 0a1.0 1.0 0 1 0 -2.0 0M442 35.5a1.0 1.0 0 1 0 2.0 0a1.0 1.0 0 1 0 -2.0 0M442.77 40.44a1.0 1.0 0 1 0 2.0 0a1.0 1.0 0 1 0 -2.0 0M443.55 48.63a1.0 1.0 0 1 0 2.0 0a1.0 1.0 0 1 0 -2.0 0M444.35 61.58a1.0 1.0 0 1 0 2.0 0a1.0 1.0 0 1 0 -2.0 0M445.18 80.43a1.0 1.0 0 1 0 2.0 0a1.0 1.0 0 1 0 -2.0 0M446.06 104.43a1.0 1.0 0 1 0 2.0 0a1.0 1.0 0 1 0 -2.0 0M447 129.52a1.0 1.0 0 1 0 2.0 0a1.0 1.0 0 1 0 -2.0 0M448 150.04a1.0 1.0 0 1 0 2.0 0a1.0 1.0 0 1 0 -2.0 0M449.05 163.22a1.0 1.0 0 1 0 2.0 0a1.0 1.0 0 1 0 -2.0 0M450.12 170.29a1.0 1.0 0 1 0 2.0 0a1.0 1.0 0 1 0 -2.0 0M451.2 173.69a1.0 1.0 0 1 0 2.0 0a1.0 1.0 0 1 0 -2.0 0M452.3 175.23a1.0 1.0 0 1 0 2.0 0a1.0 1.0 0 1 0 -2.0 0M524.63 176.45a1.0 1.0 0 1 0 2.0 0a1.0 1.0 0 1 0 -2.0 0" fill="#f00"/>
<path d="M306.6 12.05V189.1H525.8" fill="none" stroke="#1a1a1a" stroke-width="1.05"/>
<path d="M306.6 189.1v3.9M334 189.1v2.0M361.4 189.1v3.9M388.8 189.1v2.0M416.2 189.1v3.9M443.6 189.1v2.0M471 189.1v3.9M498.4 189.1v2.0M525.8 189.1v3.9M306.6 176.45h-3.6M306.6 151.16h-2.0M306.6 125.87h-3.6M306.6 100.58h-2.0M306.6 75.28h-3.6M306.6 49.99h-2.0M306.6 24.7h-3.6" fill="none" stroke="#222" stroke-width="1"/>
<g font-family="Liberation Serif, Times New Roman, serif" font-size="10" fill="#111"><text x="306.6" y="203.5" text-anchor="middle">0</text><text x="361.4" y="203.5" text-anchor="middle">500</text><text x="416.2" y="203.5" text-anchor="middle">1000</text><text x="471" y="203.5" text-anchor="middle">1500</text><text x="525.8" y="203.5" text-anchor="middle">2000</text><text x="299.8" y="179.95" text-anchor="end">0</text><text x="299.8" y="129.37" text-anchor="end">1</text><text x="299.8" y="78.78" text-anchor="end">2</text><text x="299.8" y="28.2" text-anchor="end">3</text></g>
<polyline points="34.8,265.29 35.35,265.29 35.9,265.29 36.45,265.29 37.01,265.29 37.56,265.29 38.11,265.29 38.66,265.29 39.21,265.29 39.76,265.29 40.31,265.29 40.87,265.29 41.42,265.29 41.97,265.29 42.52,265.29 43.07,265.29 43.62,265.29 44.18,265.29 44.73,265.29 45.28,265.29 45.83,265.29 46.38,265.29 46.93,265.29 47.48,265.29 48.04,265.29 48.59,265.29 49.14,265.29 49.69,265.29 50.24,265.29 50.79,265.29 51.34,265.29 51.9,265.29 52.45,265.29 53,265.29 53.55,265.29 54.1,265.29 54.65,265.29 55.21,265.29 55.76,265.29 56.31,265.29 56.86,265.29 57.41,265.29 57.96,265.29 58.51,265.29 59.07,265.29 59.62,265.29 60.17,265.29 60.72,265.29 61.27,265.29 61.82,265.29 62.38,265.29 62.93,265.29 63.48,265.29 64.03,265.29 64.58,265.29 65.13,265.29 65.68,265.29 66.24,265.29 66.79,265.29 67.34,265.29 67.89,265.29 68.44,265.29 68.99,265.29 69.54,265.29 70.1,265.29 70.65,265.29 71.2,265.29 71.75,265.29 72.3,265.29 72.85,265.29 73.41,265.29 73.96,265.29 74.51,265.29 75.06,265.29 75.61,265.29 76.16,265.29 76.71,265.29 77.27,265.29 77.82,265.29 78.37,265.29 78.92,265.29 79.47,265.29 80.02,265.29 80.57,265.29 81.13,265.29 81.68,265.29 82.23,265.29 82.78,265.29 83.33,265.29 83.88,265.29 84.44,265.29 84.99,265.29 85.54,265.29 86.09,265.29 86.64,265.29 87.19,265.29 87.74,265.29 88.3,265.29 88.85,265.29 89.4,265.29 89.95,265.29 90.5,264.98 91.05,266.97 91.6,268.95 92.16,270.92 92.71,272.89 93.26,274.85 93.81,276.81 94.36,278.75 94.91,280.7 95.47,282.63 96.02,284.56 96.57,286.48 97.12,288.39 97.67,290.3 98.22,292.2 98.77,294.09 99.33,295.98 99.88,297.86 100.43,299.73 100.98,301.6 101.53,303.46 102.08,305.31 102.63,307.16 103.19,309 103.74,310.83 104.29,312.66 104.84,314.48 105.39,316.29 105.94,318.1 106.5,319.9 107.05,321.69 107.6,323.48 108.15,325.26 108.7,327.03 109.25,328.8 109.8,330.56 110.36,332.31 110.91,334.06 111.46,335.8 112.01,337.53 112.56,339.26 113.11,340.98 113.66,342.69 114.22,344.4 114.77,345.68 115.32,345.68 115.87,345.68 116.42,345.68 116.97,345.68 117.53,345.68 118.08,345.68 118.63,345.68 119.18,345.68 119.73,345.68 120.28,345.68 120.83,345.68 121.39,345.68 121.94,345.68 122.49,345.68 123.04,345.68 123.59,345.68 124.14,345.68 124.69,345.68 125.25,345.68 125.8,345.68 126.35,345.68 126.9,345.68 127.45,345.68 128,345.68 128.56,345.68 129.11,345.68 129.66,345.68 130.21,345.68 130.76,345.68 131.31,345.68 131.86,345.68 132.42,345.68 132.97,345.68 133.52,345.68 134.07,345.68 134.62,345.68 135.17,345.68 135.72,345.68 136.28,345.68 136.83,345.68 137.38,345.68 137.93,345.68 138.48,345.68 139.03,345.68 139.59,345.68 140.14,345.68 140.69,345.68 141.24,345.68 141.79,345.68 142.34,345.68 142.89,345.68 143.45,345.68 144,345.68 144.55,345.68 145.1,345.68 145.65,345.68 146.2,345.68 146.75,345.68 147.31,345.68 147.86,345.68 148.41,345.68 148.96,345.68 149.51,345.68 150.06,345.68 150.62,345.68 151.17,345.68 151.72,345.68 152.27,345.68 152.82,345.68 153.37,345.68 153.92,345.68 154.48,345.68 155.03,345.68 155.58,345.68 156.13,345.68 156.68,345.68 157.23,345.68 157.78,345.68 158.34,345.68 158.89,345.68 159.44,345.68 159.99,345.68 160.54,345.68 161.09,345.68 161.65,345.68 162.2,345.68 162.75,345.68 163.3,345.68 163.85,345.68 164.4,345.68 164.95,345.68 165.51,345.68 166.06,345.68 166.61,345.68 167.16,345.68 167.71,345.68 168.26,345.68 168.81,345.68 169.37,345.68 169.92,345.68 170.47,345.68 171.02,345.68 171.57,345.68 172.12,345.68 172.68,345.68 173.23,345.68 173.78,345.68 174.33,345.68 174.88,345.68 175.43,345.68 175.98,345.68 176.54,345.68 177.09,345.68 177.64,345.68 178.19,345.68 178.74,345.68 179.29,345.68 179.84,345.68 180.4,345.68 180.95,345.68 181.5,345.68 182.05,345.68 182.6,345.68 183.15,345.68 183.71,345.68 184.26,345.68 184.81,345.68 185.36,345.68 185.91,345.68 186.46,345.68 187.01,345.68 187.57,345.68 188.12,345.68 188.67,345.68 189.22,345.68 189.77,345.68 190.32,345.68 190.87,345.68 191.43,345.68 191.98,345.68 192.53,345.68 193.08,345.68 193.63,345.68 194.18,345.68 194.74,345.68 195.29,345.68 195.84,345.68 196.39,345.68 196.94,413.21 197.49,413.21 198.04,413.21 198.6,413.21 199.15,413.21 199.7,413.21 200.25,413.21 200.8,413.21 201.35,413.21 201.9,413.21 202.46,413.21 203.01,413.21 203.56,413.21 204.11,413.21 204.66,413.21 205.21,413.21 205.77,413.21 206.32,413.21 206.87,413.21 207.42,413.21 207.97,413.21 208.52,413.21 209.07,413.21 209.63,413.21 210.18,413.21 210.73,413.21 211.28,413.21 211.83,413.21 212.38,413.21 212.93,413.21 213.49,413.21 214.04,413.21 214.59,413.21 215.14,413.21 215.69,413.21 216.24,413.21 216.8,413.21 217.35,413.21 217.9,413.21 218.45,413.21 219,413.21 219.55,413.21 220.1,413.21 220.66,413.21 221.21,413.21 221.76,413.21 222.31,413.21 222.86,413.21 223.41,413.21 223.96,413.21 224.52,413.21 225.07,413.21 225.62,413.21 226.17,413.21 226.72,413.21 227.27,413.21 227.83,413.21 228.38,413.21 228.93,413.21 229.48,413.21 230.03,413.21 230.58,413.21 231.13,413.21 231.69,413.21 232.24,413.21 232.79,413.21 233.34,413.21 233.89,413.21 234.44,413.21 234.99,413.21 235.55,413.21 236.1,413.21 236.65,413.21 237.2,413.21 237.75,413.21 238.3,413.21 238.86,413.21 239.41,413.21 239.96,413.21 240.51,413.21 241.06,413.21 241.61,413.21 242.16,413.21 242.72,413.21 243.27,413.21 243.82,413.21 244.37,413.21 244.92,413.21 245.47,413.21 246.02,413.21 246.58,413.21 247.13,413.21 247.68,413.21 248.23,413.21 248.78,413.21 249.33,413.21 249.89,413.21 250.44,413.21 250.99,413.21 251.54,413.21 252.09,413.21 252.64,413.21 253.19,413.21 253.75,413.21 254.3,413.21 254.85,413.21 255.4,413.21" fill="none" stroke="#000" stroke-width="0.5"/>
<path d="M34.8 265.29 76.71 265.29M79.47 265.29 89.95 265.29 90.5 264.98M114.77 345.68 127.45 345.68M189.22 345.68 196.39 345.68M196.94 413.21 255.4 413.21" fill="none" stroke="#000" stroke-width="1.6" stroke-linecap="round" stroke-linejoin="round"/>
<path d="M90.23 266.97a0.82 0.82 0 1 0 1.64 0a0.82 0.82 0 1 0 -1.64 0M90.78 268.95a0.82 0.82 0 1 0 1.64 0a0.82 0.82 0 1 0 -1.64 0M91.34 270.92a0.82 0.82 0 1 0 1.64 0a0.82 0.82 0 1 0 -1.64 0M91.89 272.89a0.82 0.82 0 1 0 1.64 0a0.82 0.82 0 1 0 -1.64 0M92.44 274.85a0.82 0.82 0 1 0 1.64 0a0.82 0.82 0 1 0 -1.64 0M92.99 276.81a0.82 0.82 0 1 0 1.64 0a0.82 0.82 0 1 0 -1.64 0M93.54 278.75a0.82 0.82 0 1 0 1.64 0a0.82 0.82 0 1 0 -1.64 0M94.09 280.7a0.82 0.82 0 1 0 1.64 0a0.82 0.82 0 1 0 -1.64 0M94.65 282.63a0.82 0.82 0 1 0 1.64 0a0.82 0.82 0 1 0 -1.64 0M95.2 284.56a0.82 0.82 0 1 0 1.64 0a0.82 0.82 0 1 0 -1.64 0M95.75 286.48a0.82 0.82 0 1 0 1.64 0a0.82 0.82 0 1 0 -1.64 0M96.3 288.39a0.82 0.82 0 1 0 1.64 0a0.82 0.82 0 1 0 -1.64 0M96.85 290.3a0.82 0.82 0 1 0 1.64 0a0.82 0.82 0 1 0 -1.64 0M97.4 292.2a0.82 0.82 0 1 0 1.64 0a0.82 0.82 0 1 0 -1.64 0M97.95 294.09a0.82 0.82 0 1 0 1.64 0a0.82 0.82 0 1 0 -1.64 0M98.51 295.98a0.82 0.82 0 1 0 1.64 0a0.82 0.82 0 1 0 -1.64 0M99.06 297.86a0.82 0.82 0 1 0 1.64 0a0.82 0.82 0 1 0 -1.64 0M99.61 299.73a0.82 0.82 0 1 0 1.64 0a0.82 0.82 0 1 0 -1.64 0M100.16 301.6a0.82 0.82 0 1 0 1.64 0a0.82 0.82 0 1 0 -1.64 0M100.71 303.46a0.82 0.82 0 1 0 1.64 0a0.82 0.82 0 1 0 -1.64 0M101.26 305.31a0.82 0.82 0 1 0 1.64 0a0.82 0.82 0 1 0 -1.64 0M103.47 312.66a0.82 0.82 0 1 0 1.64 0a0.82 0.82 0 1 0 -1.64 0M104.02 314.48a0.82 0.82 0 1 0 1.64 0a0.82 0.82 0 1 0 -1.64 0M104.57 316.29a0.82 0.82 0 1 0 1.64 0a0.82 0.82 0 1 0 -1.64 0M105.12 318.1a0.82 0.82 0 1 0 1.64 0a0.82 0.82 0 1 0 -1.64 0M105.68 319.9a0.82 0.82 0 1 0 1.64 0a0.82 0.82 0 1 0 -1.64 0M106.23 321.69a0.82 0.82 0 1 0 1.64 0a0.82 0.82 0 1 0 -1.64 0M106.78 323.48a0.82 0.82 0 1 0 1.64 0a0.82 0.82 0 1 0 -1.64 0M107.33 325.26a0.82 0.82 0 1 0 1.64 0a0.82 0.82 0 1 0 -1.64 0M107.88 327.03a0.82 0.82 0 1 0 1.64 0a0.82 0.82 0 1 0 -1.64 0M108.43 328.8a0.82 0.82 0 1 0 1.64 0a0.82 0.82 0 1 0 -1.64 0M108.98 330.56a0.82 0.82 0 1 0 1.64 0a0.82 0.82 0 1 0 -1.64 0M109.54 332.31a0.82 0.82 0 1 0 1.64 0a0.82 0.82 0 1 0 -1.64 0M110.09 334.06a0.82 0.82 0 1 0 1.64 0a0.82 0.82 0 1 0 -1.64 0M110.64 335.8a0.82 0.82 0 1 0 1.64 0a0.82 0.82 0 1 0 -1.64 0M111.19 337.53a0.82 0.82 0 1 0 1.64 0a0.82 0.82 0 1 0 -1.64 0M111.74 339.26a0.82 0.82 0 1 0 1.64 0a0.82 0.82 0 1 0 -1.64 0M112.29 340.98a0.82 0.82 0 1 0 1.64 0a0.82 0.82 0 1 0 -1.64 0M112.84 342.69a0.82 0.82 0 1 0 1.64 0a0.82 0.82 0 1 0 -1.64 0M113.4 344.4a0.82 0.82 0 1 0 1.64 0a0.82 0.82 0 1 0 -1.64 0" fill="#000"/>
<polyline points="34.8,264.59 35.35,264.59 35.9,264.59 36.45,264.59 37.01,264.59 37.56,264.59 38.11,264.59 38.66,264.59 39.21,264.59 39.76,264.59 40.31,264.59 40.87,264.59 41.42,264.59 41.97,264.59 42.52,264.59 43.07,264.59 43.62,264.59 44.18,264.59 44.73,264.59 45.28,264.59 45.83,264.59 46.38,264.59 46.93,264.59 47.48,264.59 48.04,264.59 48.59,264.59 49.14,264.59 49.69,264.59 50.24,264.59 50.79,264.59 51.35,264.59 51.9,264.59 52.45,264.59 53,264.59 53.55,264.59 54.1,264.59 54.65,264.59 55.21,264.59 55.76,264.59 56.31,264.59 56.86,264.59 57.41,264.59 57.96,264.59 58.51,264.59 59.07,264.59 59.62,264.59 60.17,264.59 60.72,264.59 61.27,264.59 61.82,264.59 62.38,264.59 62.93,264.59 63.48,264.59 64.03,264.59 64.58,264.59 65.13,264.59 65.68,264.59 66.24,264.59 66.79,264.59 67.34,264.6 67.89,264.6 68.44,264.6 68.99,264.6 69.54,264.61 70.1,264.61 70.65,264.62 71.2,264.63 71.75,264.64 72.3,264.65 72.85,264.67 73.41,264.69 73.96,264.71 74.51,264.74 75.06,264.78 75.61,264.83 76.16,264.89 76.72,264.96 77.27,265.05 77.82,265.15 78.37,265.27 78.93,265.41 79.48,265.58 80.03,265.78 80.58,265.95 81.14,266.14 81.69,266.37 82.25,266.63 82.8,266.92 83.36,267.26 83.91,267.63 84.47,268.05 85.03,268.51 85.59,269.03 86.15,269.6 86.71,270.22 87.27,270.9 87.83,271.65 88.4,272.45 88.97,273.31 89.53,274.24 90.11,275.23 90.68,276.28 91.25,277.4 91.83,278.58 92.41,279.82 92.99,281.12 93.58,282.47 94.16,283.89 94.75,285.35 95.35,286.87 95.95,288.43 96.55,290.04 97.15,291.69 97.76,293.38 98.37,295.1 98.99,296.85 99.61,298.63 100.23,300.43 100.86,302.25 101.5,304.09 102.13,305.94 102.78,307.8 103.42,309.67 104.08,311.54 104.73,313.4 105.4,315.26 106.06,317.11 106.74,318.93 107.41,320.74 108.1,322.52 108.78,324.26 109.47,325.96 110.17,327.62 110.87,329.22 111.58,330.76 112.29,332.24 113.01,333.64 113.73,334.97 114.46,336.21 115.18,337.37 115.92,338.43 116.65,339.41 117.39,340.3 118.13,341.1 118.88,341.82 119.62,342.45 120.37,343 121.12,343.47 121.87,343.88 122.63,344.23 123.38,344.52 124.13,344.76 124.89,344.96 125.65,345.12 126.4,345.25 127.16,345.35 127.92,345.43 128.68,345.5 129.44,345.54 130.19,345.58 130.95,345.61 131.71,345.63 132.47,345.64 133.23,345.65 133.99,345.66 134.74,345.67 135.5,345.67 136.26,345.67 137.02,345.67 137.78,345.68 138.54,345.68 139.3,345.68 140.06,345.68 140.81,345.68 141.57,345.68 142.33,345.68 143.09,345.68 143.85,345.68 144.61,345.68 145.37,345.68 146.12,345.68 146.88,345.68 147.64,345.68 148.4,345.68 149.16,345.68 149.92,345.68 150.68,345.68 151.44,345.68 152.19,345.68 152.95,345.68 153.71,345.68 154.47,345.68 155.23,345.68 155.99,345.68 156.75,345.68 157.5,345.68 158.26,345.68 159.02,345.68 159.78,345.68 160.54,345.68 161.3,345.68 162.06,345.68 162.82,345.68 163.57,345.68 164.33,345.68 165.09,345.68 165.85,345.68 166.61,345.68 167.37,345.68 168.13,345.68 168.89,345.68 169.64,345.68 170.4,345.68 171.16,345.68 171.92,345.68 172.68,345.68 173.44,345.68 174.2,345.68 174.95,345.68 175.71,345.68 176.47,345.68 177.23,345.68 177.99,345.68 178.75,345.68 179.51,345.68 180.27,345.68 181.02,345.68 181.78,345.68 182.54,345.68 183.3,345.68 184.06,345.69 184.82,345.69 185.58,345.7 186.34,345.72 187.09,345.75 187.85,345.79 188.61,345.88 189.37,346.03 190.13,346.28 190.89,346.72 191.66,347.48 192.42,348.75 193.2,350.89 193.98,354.36 194.78,359.76 195.61,367.56 196.48,377.61 197.39,388.54 198.37,398.17 199.4,404.96 200.46,408.93 201.54,410.98 202.64,411.95 203.73,412.26 204.84,412.39 205.94,412.46 207.04,412.49 208.14,412.5 209.25,412.5 210.35,412.51 211.45,412.51 212.56,412.51 213.66,412.51 214.76,412.51 215.86,412.51 216.97,412.51 218.07,412.51 219.17,412.51 220.28,412.51 221.38,412.51 222.48,412.51 223.59,412.51 224.69,412.51 225.79,412.51 226.89,412.51 228,412.51 229.1,412.51 230.2,412.51 231.31,412.51 232.41,412.51 233.51,412.51 234.62,412.51 235.72,412.51 236.82,412.51 237.92,412.51 239.03,412.51 240.13,412.51 241.23,412.51 242.34,412.51 243.44,412.51 244.54,412.51 245.65,412.51 246.75,412.51 247.85,412.51 248.95,412.51 250.06,412.51 251.16,412.51 252.26,412.51 253.37,412.51 254.47,412.51" fill="none" stroke="#f00" stroke-width="0.55"/>
<path d="M34.8 264.59 71.75 264.64 76.16 264.89 77.82 265.15 79.48 265.58 81.69 266.37 83.36 267.26 85.03 268.51 86.71 270.22 88.4 272.45 90.11 275.23 91.83 278.58 93.58 282.47M113.73 334.97 115.92 338.43 117.39 340.3 118.88 341.82 120.37 343 121.87 343.88 123.38 344.52 125.65 345.12 128.68 345.5 133.23 345.65 187.09 345.75 188.61 345.88 190.13 346.28 190.89 346.72 191.66 347.48 192.42 348.75M201.54 410.98 202.64 411.95 203.73 412.26 205.94 412.46 254.47 412.51" fill="none" stroke="#f00" stroke-width="2" stroke-linecap="round" stroke-linejoin="round"/>
<path d="M33.8 264.59a1.0 1.0 0 1 0 2.0 0a1.0 1.0 0 1 0 -2.0 0M92.58 282.47a1.0 1.0 0 1 0 2.0 0a1.0 1.0 0 1 0 -2.0 0M93.16 283.89a1.0 1.0 0 1 0 2.0 0a1.0 1.0 0 1 0 -2.0 0M93.75 285.35a1.0 1.0 0 1 0 2.0 0a1.0 1.0 0 1 0 -2.0 0M94.35 286.87a1.0 1.0 0 1 0 2.0 0a1.0 1.0 0 1 0 -2.0 0M94.95 288.43a1.0 1.0 0 1 0 2.0 0a1.0 1.0 0 1 0 -2.0 0M95.55 290.04a1.0 1.0 0 1 0 2.0 0a1.0 1.0 0 1 0 -2.0 0M96.15 291.69a1.0 1.0 0 1 0 2.0 0a1.0 1.0 0 1 0 -2.0 0M96.76 293.38a1.0 1.0 0 1 0 2.0 0a1.0 1.0 0 1 0 -2.0 0M97.37 295.1a1.0 1.0 0 1 0 2.0 0a1.0 1.0 0 1 0 -2.0 0M97.99 296.85a1.0 1.0 0 1 0 2.0 0a1.0 1.0 0 1 0 -2.0 0M98.61 298.63a1.0 1.0 0 1 0 2.0 0a1.0 1.0 0 1 0 -2.0 0M99.23 300.43a1.0 1.0 0 1 0 2.0 0a1.0 1.0 0 1 0 -2.0 0M99.86 302.25a1.0 1.0 0 1 0 2.0 0a1.0 1.0 0 1 0 -2.0 0M100.5 304.09a1.0 1.0 0 1 0 2.0 0a1.0 1.0 0 1 0 -2.0 0M101.13 305.94a1.0 1.0 0 1 0 2.0 0a1.0 1.0 0 1 0 -2.0 0M101.78 307.8a1.0 1.0 0 1 0 2.0 0a1.0 1.0 0 1 0 -2.0 0M102.42 309.67a1.0 1.0 0 1 0 2.0 0a1.0 1.0 0 1 0 -2.0 0M103.08 311.54a1.0 1.0 0 1 0 2.0 0a1.0 1.0 0 1 0 -2.0 0M103.73 313.4a1.0 1.0 0 1 0 2.0 0a1.0 1.0 0 1 0 -2.0 0M104.4 315.26a1.0 1.0 0 1 0 2.0 0a1.0 1.0 0 1 0 -2.0 0M105.06 317.11a1.0 1.0 0 1 0 2.0 0a1.0 1.0 0 1 0 -2.0 0M105.74 318.93a1.0 1.0 0 1 0 2.0 0a1.0 1.0 0 1 0 -2.0 0M106.41 320.74a1.0 1.0 0 1 0 2.0 0a1.0 1.0 0 1 0 -2.0 0M107.1 322.52a1.0 1.0 0 1 0 2.0 0a1.0 1.0 0 1 0 -2.0 0M107.78 324.26a1.0 1.0 0 1 0 2.0 0a1.0 1.0 0 1 0 -2.0 0M108.47 325.96a1.0 1.0 0 1 0 2.0 0a1.0 1.0 0 1 0 -2.0 0M109.17 327.62a1.0 1.0 0 1 0 2.0 0a1.0 1.0 0 1 0 -2.0 0M109.87 329.22a1.0 1.0 0 1 0 2.0 0a1.0 1.0 0 1 0 -2.0 0M110.58 330.76a1.0 1.0 0 1 0 2.0 0a1.0 1.0 0 1 0 -2.0 0M111.29 332.24a1.0 1.0 0 1 0 2.0 0a1.0 1.0 0 1 0 -2.0 0M112.01 333.64a1.0 1.0 0 1 0 2.0 0a1.0 1.0 0 1 0 -2.0 0M112.73 334.97a1.0 1.0 0 1 0 2.0 0a1.0 1.0 0 1 0 -2.0 0M191.42 348.75a1.0 1.0 0 1 0 2.0 0a1.0 1.0 0 1 0 -2.0 0M192.2 350.89a1.0 1.0 0 1 0 2.0 0a1.0 1.0 0 1 0 -2.0 0M192.98 354.36a1.0 1.0 0 1 0 2.0 0a1.0 1.0 0 1 0 -2.0 0M193.78 359.76a1.0 1.0 0 1 0 2.0 0a1.0 1.0 0 1 0 -2.0 0M194.61 367.56a1.0 1.0 0 1 0 2.0 0a1.0 1.0 0 1 0 -2.0 0M195.48 377.61a1.0 1.0 0 1 0 2.0 0a1.0 1.0 0 1 0 -2.0 0M196.39 388.54a1.0 1.0 0 1 0 2.0 0a1.0 1.0 0 1 0 -2.0 0M197.37 398.17a1.0 1.0 0 1 0 2.0 0a1.0 1.0 0 1 0 -2.0 0M198.4 404.96a1.0 1.0 0 1 0 2.0 0a1.0 1.0 0 1 0 -2.0 0M199.46 408.93a1.0 1.0 0 1 0 2.0 0a1.0 1.0 0 1 0 -2.0 0M200.54 410.98a1.0 1.0 0 1 0 2.0 0a1.0 1.0 0 1 0 -2.0 0M253.47 412.51a1.0 1.0 0 1 0 2.0 0a1.0 1.0 0 1 0 -2.0 0" fill="#f00"/>
<path d="M34.8 250.1V427.6H255.4" fill="none" stroke="#1a1a1a" stroke-width="1.05"/>
<path d="M34.8 427.6v3.9M62.38 427.6v2.0M89.95 427.6v3.9M117.53 427.6v2.0M145.1 427.6v3.9M172.68 427.6v2.0M200.25 427.6v3.9M227.83 427.6v2.0M255.4 427.6v3.9M34.8 412.81h-3.6M34.8 398.02h-2.0M34.8 383.23h-3.6M34.8 368.43h-2.0M34.8 353.64h-3.6M34.8 338.85h-2.0M34.8 324.06h-3.6M34.8 309.27h-2.0M34.8 294.48h-3.6M34.8 279.68h-2.0M34.8 264.89h-3.6" fill="none" stroke="#222" stroke-width="1"/>
<g font-family="Liberation Serif, Times New Roman, serif" font-size="10" fill="#111"><text x="34.8" y="442" text-anchor="middle">0</text><text x="89.95" y="442" text-anchor="middle">500</text><text x="145.1" y="442" text-anchor="middle">1000</text><text x="200.25" y="442" text-anchor="middle">1500</text><text x="255.4" y="442" text-anchor="middle">2000</text><text x="28.2" y="416.31" text-anchor="end">5</text><text x="28.2" y="386.73" text-anchor="end">6</text><text x="28.2" y="357.14" text-anchor="end">7</text><text x="28.2" y="327.56" text-anchor="end">8</text><text x="28.2" y="297.98" text-anchor="end">9</text><text x="28.2" y="268.39" text-anchor="end">10</text></g>
<polyline points="301.5,413.13 302.08,413.13 302.65,413.13 303.23,413.13 303.8,413.13 304.38,413.13 304.96,413.13 305.53,413.13 306.11,413.13 306.68,413.13 307.26,413.13 307.84,413.13 308.41,413.13 308.99,413.13 309.56,413.13 310.14,413.13 310.72,413.13 311.29,413.13 311.87,413.13 312.44,413.13 313.02,413.13 313.6,413.13 314.17,413.13 314.75,413.13 315.32,413.13 315.9,413.13 316.48,413.13 317.05,413.13 317.63,413.13 318.2,413.13 318.78,413.13 319.36,413.13 319.93,413.13 320.51,413.13 321.08,413.13 321.66,413.13 322.24,413.13 322.81,413.13 323.39,413.13 323.96,413.13 324.54,413.13 325.12,413.13 325.69,413.13 326.27,413.13 326.84,413.13 327.42,413.13 328,413.13 328.57,413.13 329.15,413.13 329.72,413.13 330.3,413.13 330.88,413.13 331.45,413.13 332.03,413.13 332.6,413.13 333.18,413.13 333.76,413.13 334.33,413.13 334.91,413.13 335.48,413.13 336.06,413.13 336.64,413.13 337.21,413.13 337.79,413.13 338.36,413.13 338.94,413.13 339.52,413.13 340.09,413.13 340.67,413.13 341.24,413.13 341.82,413.13 342.4,413.13 342.97,413.13 343.55,413.13 344.12,413.13 344.7,413.13 345.28,413.13 345.85,413.13 346.43,413.13 347,413.13 347.58,413.13 348.16,413.13 348.73,413.13 349.31,413.13 349.88,413.13 350.46,413.13 351.04,413.13 351.61,413.13 352.19,413.13 352.76,413.13 353.34,413.13 353.92,413.13 354.49,413.13 355.07,413.13 355.64,413.13 356.22,413.13 356.8,413.13 357.37,413.13 357.95,413.13 358.52,413.13 359.1,413.13 359.68,412.97 360.25,409.4 360.83,405.84 361.4,402.27 361.98,398.7 362.56,395.14 363.13,391.57 363.71,388.01 364.28,384.44 364.86,380.88 365.44,377.31 366.01,373.74 366.59,370.18 367.16,366.61 367.74,363.05 368.32,359.48 368.89,355.92 369.47,352.35 370.04,348.78 370.62,345.22 371.2,341.65 371.77,338.09 372.35,334.52 372.92,330.96 373.5,327.39 374.08,323.82 374.65,320.26 375.23,316.69 375.8,313.13 376.38,309.56 376.96,306 377.53,302.43 378.11,298.86 378.68,295.3 379.26,291.73 379.84,288.17 380.41,284.6 380.99,281.04 381.56,277.47 382.14,273.9 382.72,270.34 383.29,266.77 383.87,263.21 384.44,259.64 385.02,256.95 385.6,256.95 386.17,256.95 386.75,256.95 387.32,256.95 387.9,256.95 388.48,256.95 389.05,256.95 389.63,256.95 390.2,256.95 390.78,256.95 391.36,256.95 391.93,256.95 392.51,256.95 393.08,256.95 393.66,256.95 394.24,256.95 394.81,256.95 395.39,256.95 395.96,256.95 396.54,256.95 397.12,256.95 397.69,256.95 398.27,256.95 398.84,256.95 399.42,256.95 400,256.95 400.57,256.95 401.15,256.95 401.72,256.95 402.3,256.95 402.88,256.95 403.45,256.95 404.03,256.95 404.6,256.95 405.18,256.95 405.76,256.95 406.33,256.95 406.91,256.95 407.48,256.95 408.06,256.95 408.64,256.95 409.21,256.95 409.79,256.95 410.36,256.95 410.94,256.95 411.52,256.95 412.09,256.95 412.67,256.95 413.24,256.95 413.82,256.95 414.4,256.95 414.97,256.95 415.55,256.95 416.12,256.95 416.7,256.95 417.28,256.95 417.85,256.95 418.43,256.95 419,256.95 419.58,256.95 420.16,256.95 420.73,256.95 421.31,256.95 421.88,256.95 422.46,256.95 423.04,256.95 423.61,256.95 424.19,256.95 424.76,256.95 425.34,256.95 425.92,256.95 426.49,256.95 427.07,256.95 427.64,256.95 428.22,256.95 428.8,256.95 429.37,256.95 429.95,256.95 430.52,256.95 431.1,256.95 431.68,256.95 432.25,256.95 432.83,256.95 433.4,256.95 433.98,256.95 434.56,256.95 435.13,256.95 435.71,256.95 436.28,256.95 436.86,256.95 437.44,256.95 438.01,256.95 438.59,256.95 439.16,256.95 439.74,256.95 440.32,256.95 440.89,256.95 441.47,256.95 442.04,256.95 442.62,256.95 443.2,256.95 443.77,256.95 444.35,256.95 444.92,256.95 445.5,256.95 446.08,256.95 446.65,256.95 447.23,256.95 447.8,256.95 448.38,256.95 448.96,256.95 449.53,256.95 450.11,256.95 450.68,256.95 451.26,256.95 451.84,256.95 452.41,256.95 452.99,256.95 453.56,256.95 454.14,256.95 454.72,256.95 455.29,256.95 455.87,256.95 456.44,256.95 457.02,256.95 457.6,256.95 458.17,256.95 458.75,256.95 459.32,256.95 459.9,256.95 460.48,256.95 461.05,256.95 461.63,256.95 462.2,256.95 462.78,256.95 463.36,256.95 463.93,256.95 464.51,256.95 465.08,256.95 465.66,256.95 466.24,256.95 466.81,256.95 467.39,256.95 467.96,256.95 468.54,256.95 469.12,256.95 469.69,256.95 470.27,256.95 470.84,413.13 471.42,413.13 472,413.13 472.57,413.13 473.15,413.13 473.72,413.13 474.3,413.13 474.88,413.13 475.45,413.13 476.03,413.13 476.6,413.13 477.18,413.13 477.76,413.13 478.33,413.13 478.91,413.13 479.48,413.13 480.06,413.13 480.64,413.13 481.21,413.13 481.79,413.13 482.36,413.13 482.94,413.13 483.52,413.13 484.09,413.13 484.67,413.13 485.24,413.13 485.82,413.13 486.4,413.13 486.97,413.13 487.55,413.13 488.12,413.13 488.7,413.13 489.28,413.13 489.85,413.13 490.43,413.13 491,413.13 491.58,413.13 492.16,413.13 492.73,413.13 493.31,413.13 493.88,413.13 494.46,413.13 495.04,413.13 495.61,413.13 496.19,413.13 496.76,413.13 497.34,413.13 497.92,413.13 498.49,413.13 499.07,413.13 499.64,413.13 500.22,413.13 500.8,413.13 501.37,413.13 501.95,413.13 502.52,413.13 503.1,413.13 503.68,413.13 504.25,413.13 504.83,413.13 505.4,413.13 505.98,413.13 506.56,413.13 507.13,413.13 507.71,413.13 508.28,413.13 508.86,413.13 509.44,413.13 510.01,413.13 510.59,413.13 511.16,413.13 511.74,413.13 512.32,413.13 512.89,413.13 513.47,413.13 514.04,413.13 514.62,413.13 515.2,413.13 515.77,413.13 516.35,413.13 516.92,413.13 517.5,413.13 518.08,413.13 518.65,413.13 519.23,413.13 519.8,413.13 520.38,413.13 520.96,413.13 521.53,413.13 522.11,413.13 522.68,413.13 523.26,413.13 523.84,413.13 524.41,413.13 524.99,413.13 525.56,413.13 526.14,413.13 526.72,413.13 527.29,413.13 527.87,413.13 528.44,413.13 529.02,413.13 529.6,413.13 530.17,413.13 530.75,413.13 531.32,413.13 531.9,413.13" fill="none" stroke="#000" stroke-width="0.5"/>
<path d="M343.55 413.13 359.1 413.13 359.68 412.97M385.02 256.95 399.42 256.95M462.2 256.95 470.27 256.95M470.84 413.13 480.06 413.13" fill="none" stroke="#000" stroke-width="1.6" stroke-linecap="round" stroke-linejoin="round"/>
<path d="M359.43 409.4a0.82 0.82 0 1 0 1.64 0a0.82 0.82 0 1 0 -1.64 0M360.01 405.84a0.82 0.82 0 1 0 1.64 0a0.82 0.82 0 1 0 -1.64 0M360.58 402.27a0.82 0.82 0 1 0 1.64 0a0.82 0.82 0 1 0 -1.64 0M361.16 398.7a0.82 0.82 0 1 0 1.64 0a0.82 0.82 0 1 0 -1.64 0M361.74 395.14a0.82 0.82 0 1 0 1.64 0a0.82 0.82 0 1 0 -1.64 0M362.31 391.57a0.82 0.82 0 1 0 1.64 0a0.82 0.82 0 1 0 -1.64 0M362.89 388.01a0.82 0.82 0 1 0 1.64 0a0.82 0.82 0 1 0 -1.64 0M363.46 384.44a0.82 0.82 0 1 0 1.64 0a0.82 0.82 0 1 0 -1.64 0M364.04 380.88a0.82 0.82 0 1 0 1.64 0a0.82 0.82 0 1 0 -1.64 0M364.62 377.31a0.82 0.82 0 1 0 1.64 0a0.82 0.82 0 1 0 -1.64 0M365.19 373.74a0.82 0.82 0 1 0 1.64 0a0.82 0.82 0 1 0 -1.64 0M365.77 370.18a0.82 0.82 0 1 0 1.64 0a0.82 0.82 0 1 0 -1.64 0M366.34 366.61a0.82 0.82 0 1 0 1.64 0a0.82 0.82 0 1 0 -1.64 0M366.92 363.05a0.82 0.82 0 1 0 1.64 0a0.82 0.82 0 1 0 -1.64 0M367.5 359.48a0.82 0.82 0 1 0 1.64 0a0.82 0.82 0 1 0 -1.64 0M368.07 355.92a0.82 0.82 0 1 0 1.64 0a0.82 0.82 0 1 0 -1.64 0M368.65 352.35a0.82 0.82 0 1 0 1.64 0a0.82 0.82 0 1 0 -1.64 0M369.22 348.78a0.82 0.82 0 1 0 1.64 0a0.82 0.82 0 1 0 -1.64 0M369.8 345.22a0.82 0.82 0 1 0 1.64 0a0.82 0.82 0 1 0 -1.64 0M370.38 341.65a0.82 0.82 0 1 0 1.64 0a0.82 0.82 0 1 0 -1.64 0M370.95 338.09a0.82 0.82 0 1 0 1.64 0a0.82 0.82 0 1 0 -1.64 0M371.53 334.52a0.82 0.82 0 1 0 1.64 0a0.82 0.82 0 1 0 -1.64 0M372.1 330.96a0.82 0.82 0 1 0 1.64 0a0.82 0.82 0 1 0 -1.64 0M372.68 327.39a0.82 0.82 0 1 0 1.64 0a0.82 0.82 0 1 0 -1.64 0M373.83 320.26a0.82 0.82 0 1 0 1.64 0a0.82 0.82 0 1 0 -1.64 0M374.41 316.69a0.82 0.82 0 1 0 1.64 0a0.82 0.82 0 1 0 -1.64 0M374.98 313.13a0.82 0.82 0 1 0 1.64 0a0.82 0.82 0 1 0 -1.64 0M375.56 309.56a0.82 0.82 0 1 0 1.64 0a0.82 0.82 0 1 0 -1.64 0M376.14 306a0.82 0.82 0 1 0 1.64 0a0.82 0.82 0 1 0 -1.64 0M376.71 302.43a0.82 0.82 0 1 0 1.64 0a0.82 0.82 0 1 0 -1.64 0M377.29 298.86a0.82 0.82 0 1 0 1.64 0a0.82 0.82 0 1 0 -1.64 0M377.86 295.3a0.82 0.82 0 1 0 1.64 0a0.82 0.82 0 1 0 -1.64 0M378.44 291.73a0.82 0.82 0 1 0 1.64 0a0.82 0.82 0 1 0 -1.64 0M379.02 288.17a0.82 0.82 0 1 0 1.64 0a0.82 0.82 0 1 0 -1.64 0M379.59 284.6a0.82 0.82 0 1 0 1.64 0a0.82 0.82 0 1 0 -1.64 0M380.17 281.04a0.82 0.82 0 1 0 1.64 0a0.82 0.82 0 1 0 -1.64 0M380.74 277.47a0.82 0.82 0 1 0 1.64 0a0.82 0.82 0 1 0 -1.64 0M381.32 273.9a0.82 0.82 0 1 0 1.64 0a0.82 0.82 0 1 0 -1.64 0M381.9 270.34a0.82 0.82 0 1 0 1.64 0a0.82 0.82 0 1 0 -1.64 0M382.47 266.77a0.82 0.82 0 1 0 1.64 0a0.82 0.82 0 1 0 -1.64 0M383.05 263.21a0.82 0.82 0 1 0 1.64 0a0.82 0.82 0 1 0 -1.64 0M383.62 259.64a0.82 0.82 0 1 0 1.64 0a0.82 0.82 0 1 0 -1.64 0" fill="#000"/>
<polyline points="301.5,413.13 302.08,413.13 302.65,413.13 303.23,413.13 303.8,413.13 304.38,413.13 304.96,413.13 305.53,413.13 306.11,413.13 306.68,413.13 307.26,413.13 307.84,413.13 308.41,413.13 308.99,413.13 309.56,413.13 310.14,413.13 310.72,413.13 311.29,413.13 311.87,413.13 312.44,413.13 313.02,413.13 313.6,413.13 314.17,413.13 314.75,413.13 315.32,413.13 315.9,413.13 316.48,413.13 317.05,413.13 317.63,413.13 318.2,413.13 318.78,413.13 319.36,413.13 319.93,413.13 320.51,413.13 321.08,413.13 321.66,413.13 322.24,413.13 322.81,413.13 323.39,413.13 323.96,413.13 324.54,413.13 325.12,413.13 325.69,413.13 326.27,413.13 326.84,413.13 327.42,413.13 328,413.13 328.57,413.13 329.15,413.13 329.72,413.13 330.3,413.13 330.88,413.13 331.45,413.13 332.03,413.13 332.6,413.13 333.18,413.13 333.76,413.13 334.33,413.13 334.91,413.13 335.48,413.13 336.06,413.13 336.64,413.12 337.21,413.12 337.79,413.12 338.36,413.11 338.94,413.1 339.52,413.09 340.09,413.08 340.67,413.06 341.24,413.03 341.82,412.99 342.4,412.94 342.97,412.87 343.55,412.78 344.13,412.67 344.7,412.53 345.28,412.35 345.85,412.13 346.43,411.86 347.01,411.54 347.59,411.15 348.16,410.69 348.74,410.15 349.32,409.52 349.9,408.8 350.48,407.98 351.05,407.05 351.63,406.02 352.21,404.88 352.8,403.62 353.38,402.26 353.96,400.78 354.54,399.2 355.13,397.52 355.71,395.75 356.3,393.88 356.89,391.93 357.48,389.91 358.07,387.81 358.67,385.66 359.26,383.44 359.86,381.18 360.46,378.88 361.06,376.54 361.67,374.17 362.28,371.76 362.89,369.33 363.5,366.88 364.12,364.41 364.74,361.91 365.36,359.4 365.99,356.87 366.62,354.32 367.26,351.75 367.9,349.17 368.54,346.56 369.19,343.94 369.84,341.3 370.5,338.65 371.16,335.97 371.83,333.27 372.5,330.56 373.17,327.82 373.85,325.07 374.54,322.29 375.23,319.49 375.93,316.68 376.63,313.84 377.34,310.99 378.05,308.12 378.77,305.23 379.49,302.33 380.22,299.43 380.95,296.52 381.69,293.62 382.44,290.74 383.18,287.88 383.94,285.07 384.69,282.31 385.45,279.63 386.22,277.04 386.99,274.57 387.76,272.23 388.53,270.05 389.31,268.04 390.09,266.22 390.87,264.58 391.66,263.14 392.44,261.9 393.23,260.84 394.01,259.96 394.8,259.24 395.59,258.66 396.38,258.2 397.17,257.85 397.96,257.58 398.76,257.39 399.55,257.25 400.34,257.15 401.13,257.08 401.92,257.03 402.72,257 403.51,256.98 404.3,256.97 405.09,256.96 405.88,256.96 406.68,256.96 407.47,256.96 408.26,256.95 409.05,256.95 409.85,256.95 410.64,256.95 411.43,256.95 412.22,256.95 413.02,256.95 413.81,256.95 414.6,256.95 415.39,256.95 416.19,256.95 416.98,256.95 417.77,256.95 418.56,256.95 419.36,256.95 420.15,256.95 420.94,256.95 421.73,256.95 422.52,256.95 423.32,256.95 424.11,256.95 424.9,256.95 425.69,256.95 426.49,256.95 427.28,256.95 428.07,256.95 428.86,256.95 429.66,256.95 430.45,256.95 431.24,256.95 432.03,256.95 432.83,256.95 433.62,256.95 434.41,256.95 435.2,256.95 436,256.95 436.79,256.95 437.58,256.95 438.37,256.95 439.16,256.95 439.96,256.95 440.75,256.95 441.54,256.95 442.33,256.95 443.13,256.95 443.92,256.95 444.71,256.95 445.5,256.95 446.3,256.95 447.09,256.95 447.88,256.95 448.67,256.95 449.47,256.95 450.26,256.95 451.05,256.95 451.84,256.95 452.64,256.95 453.43,256.95 454.22,256.95 455.01,256.96 455.8,256.96 456.6,256.96 457.39,256.96 458.18,256.97 458.97,256.98 459.77,256.99 460.56,257.03 461.35,257.08 462.15,257.18 462.94,257.35 463.73,257.66 464.53,258.2 465.33,259.17 466.13,260.86 466.93,263.83 467.75,268.95 468.59,277.6 469.45,291.56 470.36,312.24 471.32,338.65 472.34,365.71 473.41,387.02 474.52,400.24 475.65,407.17 476.79,410.46 477.94,411.95 479.09,412.62 480.24,412.9 481.39,413.03 482.54,413.09 483.7,413.11 484.85,413.12 486,413.13 487.15,413.13 488.3,413.13 489.46,413.13 490.61,413.13 491.76,413.13 492.91,413.13 494.06,413.13 495.22,413.13 496.37,413.13 497.52,413.13 498.67,413.13 499.82,413.13 500.98,413.13 502.13,413.13 503.28,413.13 504.43,413.13 505.58,413.13 506.74,413.13 507.89,413.13 509.04,413.13 510.19,413.13 511.34,413.13 512.5,413.13 513.65,413.13 514.8,413.13 515.95,413.13 517.1,413.13 518.26,413.13 519.41,413.13 520.56,413.13 521.71,413.13 522.86,413.13 524.02,413.13 525.17,413.13 526.32,413.13 527.47,413.13 528.62,413.13 529.78,413.13 530.93,413.13" fill="none" stroke="#f00" stroke-width="0.55"/>
<path d="M301.5 413.13 338.36 413.11 341.82 412.99 344.13 412.67 345.85 412.13 347.01 411.54 348.16 410.69 349.32 409.52 350.48 407.98 351.63 406.02 353.38 402.26M391.66 263.14 393.23 260.84 394.01 259.96 395.59 258.66 396.38 258.2 397.96 257.58 399.55 257.25 401.92 257.03 459.77 256.99 462.15 257.18 463.73 257.66 464.53 258.2 465.33 259.17M477.94 411.95 479.09 412.62 480.24 412.9 482.54 413.09 530.93 413.13" fill="none" stroke="#f00" stroke-width="2" stroke-linecap="round" stroke-linejoin="round"/>
<path d="M300.5 413.13a1.0 1.0 0 1 0 2.0 0a1.0 1.0 0 1 0 -2.0 0M352.38 402.26a1.0 1.0 0 1 0 2.0 0a1.0 1.0 0 1 0 -2.0 0M352.96 400.78a1.0 1.0 0 1 0 2.0 0a1.0 1.0 0 1 0 -2.0 0M353.54 399.2a1.0 1.0 0 1 0 2.0 0a1.0 1.0 0 1 0 -2.0 0M354.13 397.52a1.0 1.0 0 1 0 2.0 0a1.0 1.0 0 1 0 -2.0 0M354.71 395.75a1.0 1.0 0 1 0 2.0 0a1.0 1.0 0 1 0 -2.0 0M355.3 393.88a1.0 1.0 0 1 0 2.0 0a1.0 1.0 0 1 0 -2.0 0M355.89 391.93a1.0 1.0 0 1 0 2.0 0a1.0 1.0 0 1 0 -2.0 0M356.48 389.91a1.0 1.0 0 1 0 2.0 0a1.0 1.0 0 1 0 -2.0 0M357.07 387.81a1.0 1.0 0 1 0 2.0 0a1.0 1.0 0 1 0 -2.0 0M357.67 385.66a1.0 1.0 0 1 0 2.0 0a1.0 1.0 0 1 0 -2.0 0M358.26 383.44a1.0 1.0 0 1 0 2.0 0a1.0 1.0 0 1 0 -2.0 0M358.86 381.18a1.0 1.0 0 1 0 2.0 0a1.0 1.0 0 1 0 -2.0 0M359.46 378.88a1.0 1.0 0 1 0 2.0 0a1.0 1.0 0 1 0 -2.0 0M360.06 376.54a1.0 1.0 0 1 0 2.0 0a1.0 1.0 0 1 0 -2.0 0M360.67 374.17a1.0 1.0 0 1 0 2.0 0a1.0 1.0 0 1 0 -2.0 0M361.28 371.76a1.0 1.0 0 1 0 2.0 0a1.0 1.0 0 1 0 -2.0 0M361.89 369.33a1.0 1.0 0 1 0 2.0 0a1.0 1.0 0 1 0 -2.0 0M362.5 366.88a1.0 1.0 0 1 0 2.0 0a1.0 1.0 0 1 0 -2.0 0M363.12 364.41a1.0 1.0 0 1 0 2.0 0a1.0 1.0 0 1 0 -2.0 0M363.74 361.91a1.0 1.0 0 1 0 2.0 0a1.0 1.0 0 1 0 -2.0 0M364.36 359.4a1.0 1.0 0 1 0 2.0 0a1.0 1.0 0 1 0 -2.0 0M364.99 356.87a1.0 1.0 0 1 0 2.0 0a1.0 1.0 0 1 0 -2.0 0M365.62 354.32a1.0 1.0 0 1 0 2.0 0a1.0 1.0 0 1 0 -2.0 0M366.26 351.75a1.0 1.0 0 1 0 2.0 0a1.0 1.0 0 1 0 -2.0 0M366.9 349.17a1.0 1.0 0 1 0 2.0 0a1.0 1.0 0 1 0 -2.0 0M367.54 346.56a1.0 1.0 0 1 0 2.0 0a1.0 1.0 0 1 0 -2.0 0M368.19 343.94a1.0 1.0 0 1 0 2.0 0a1.0 1.0 0 1 0 -2.0 0M368.84 341.3a1.0 1.0 0 1 0 2.0 0a1.0 1.0 0 1 0 -2.0 0M369.5 338.65a1.0 1.0 0 1 0 2.0 0a1.0 1.0 0 1 0 -2.0 0M370.16 335.97a1.0 1.0 0 1 0 2.0 0a1.0 1.0 0 1 0 -2.0 0M370.83 333.27a1.0 1.0 0 1 0 2.0 0a1.0 1.0 0 1 0 -2.0 0M371.5 330.56a1.0 1.0 0 1 0 2.0 0a1.0 1.0 0 1 0 -2.0 0M372.17 327.82a1.0 1.0 0 1 0 2.0 0a1.0 1.0 0 1 0 -2.0 0M372.85 325.07a1.0 1.0 0 1 0 2.0 0a1.0 1.0 0 1 0 -2.0 0M373.54 322.29a1.0 1.0 0 1 0 2.0 0a1.0 1.0 0 1 0 -2.0 0M374.23 319.49a1.0 1.0 0 1 0 2.0 0a1.0 1.0 0 1 0 -2.0 0M374.93 316.68a1.0 1.0 0 1 0 2.0 0a1.0 1.0 0 1 0 -2.0 0M375.63 313.84a1.0 1.0 0 1 0 2.0 0a1.0 1.0 0 1 0 -2.0 0M376.34 310.99a1.0 1.0 0 1 0 2.0 0a1.0 1.0 0 1 0 -2.0 0M377.05 308.12a1.0 1.0 0 1 0 2.0 0a1.0 1.0 0 1 0 -2.0 0M377.77 305.23a1.0 1.0 0 1 0 2.0 0a1.0 1.0 0 1 0 -2.0 0M378.49 302.33a1.0 1.0 0 1 0 2.0 0a1.0 1.0 0 1 0 -2.0 0M379.22 299.43a1.0 1.0 0 1 0 2.0 0a1.0 1.0 0 1 0 -2.0 0M379.95 296.52a1.0 1.0 0 1 0 2.0 0a1.0 1.0 0 1 0 -2.0 0M380.69 293.62a1.0 1.0 0 1 0 2.0 0a1.0 1.0 0 1 0 -2.0 0M381.44 290.74a1.0 1.0 0 1 0 2.0 0a1.0 1.0 0 1 0 -2.0 0M382.18 287.88a1.0 1.0 0 1 0 2.0 0a1.0 1.0 0 1 0 -2.0 0M382.94 285.07a1.0 1.0 0 1 0 2.0 0a1.0 1.0 0 1 0 -2.0 0M383.69 282.31a1.0 1.0 0 1 0 2.0 0a1.0 1.0 0 1 0 -2.0 0M384.45 279.63a1.0 1.0 0 1 0 2.0 0a1.0 1.0 0 1 0 -2.0 0M385.22 277.04a1.0 1.0 0 1 0 2.0 0a1.0 1.0 0 1 0 -2.0 0M385.99 274.57a1.0 1.0 0 1 0 2.0 0a1.0 1.0 0 1 0 -2.0 0M386.76 272.23a1.0 1.0 0 1 0 2.0 0a1.0 1.0 0 1 0 -2.0 0M387.53 270.05a1.0 1.0 0 1 0 2.0 0a1.0 1.0 0 1 0 -2.0 0M388.31 268.04a1.0 1.0 0 1 0 2.0 0a1.0 1.0 0 1 0 -2.0 0M389.09 266.22a1.0 1.0 0 1 0 2.0 0a1.0 1.0 0 1 0 -2.0 0M389.87 264.58a1.0 1.0 0 1 0 2.0 0a1.0 1.0 0 1 0 -2.0 0M390.66 263.14a1.0 1.0 0 1 0 2.0 0a1.0 1.0 0 1 0 -2.0 0M464.33 259.17a1.0 1.0 0 1 0 2.0 0a1.0 1.0 0 1 0 -2.0 0M465.13 260.86a1.0 1.0 0 1 0 2.0 0a1.0 1.0 0 1 0 -2.0 0M465.93 263.83a1.0 1.0 0 1 0 2.0 0a1.0 1.0 0 1 0 -2.0 0M466.75 268.95a1.0 1.0 0 1 0 2.0 0a1.0 1.0 0 1 0 -2.0 0M467.59 277.6a1.0 1.0 0 1 0 2.0 0a1.0 1.0 0 1 0 -2.0 0M468.45 291.56a1.0 1.0 0 1 0 2.0 0a1.0 1.0 0 1 0 -2.0 0M469.36 312.24a1.0 1.0 0 1 0 2.0 0a1.0 1.0 0 1 0 -2.0 0M470.32 338.65a1.0 1.0 0 1 0 2.0 0a1.0 1.0 0 1 0 -2.0 0M471.34 365.71a1.0 1.0 0 1 0 2.0 0a1.0 1.0 0 1 0 -2.0 0M472.41 387.02a1.0 1.0 0 1 0 2.0 0a1.0 1.0 0 1 0 -2.0 0M473.52 400.24a1.0 1.0 0 1 0 2.0 0a1.0 1.0 0 1 0 -2.0 0M474.65 407.17a1.0 1.0 0 1 0 2.0 0a1.0 1.0 0 1 0 -2.0 0M475.79 410.46a1.0 1.0 0 1 0 2.0 0a1.0 1.0 0 1 0 -2.0 0M476.94 411.95a1.0 1.0 0 1 0 2.0 0a1.0 1.0 0 1 0 -2.0 0M529.93 413.13a1.0 1.0 0 1 0 2.0 0a1.0 1.0 0 1 0 -2.0 0" fill="#f00"/>
<path d="M301.5 239.3V426.5H531.9" fill="none" stroke="#1a1a1a" stroke-width="1.05"/>
<path d="M301.5 426.5v3.9M330.3 426.5v2.0M359.1 426.5v3.9M387.9 426.5v2.0M416.7 426.5v3.9M445.5 426.5v2.0M474.3 426.5v3.9M503.1 426.5v2.0M531.9 426.5v3.9M301.5 413.13h-3.6M301.5 386.39h-2.0M301.5 359.64h-3.6M301.5 332.9h-2.0M301.5 306.16h-3.6M301.5 279.41h-2.0M301.5 252.67h-3.6" fill="none" stroke="#222" stroke-width="1"/>
<g font-family="Liberation Serif, Times New Roman, serif" font-size="10.4" fill="#111"><text x="301.5" y="441.5" text-anchor="middle">0</text><text x="359.1" y="441.5" text-anchor="middle">500</text><text x="416.7" y="441.5" text-anchor="middle">1000</text><text x="474.3" y="441.5" text-anchor="middle">1500</text><text x="531.9" y="441.5" text-anchor="middle">2000</text><text x="294.3" y="416.63" text-anchor="end">0</text><text x="294.3" y="363.14" text-anchor="end">1</text><text x="294.3" y="309.66" text-anchor="end">2</text><text x="294.3" y="256.17" text-anchor="end">3</text></g>
<g font-family="Liberation Serif, Times New Roman, serif" fill="#111">
<text transform="translate(14.9 14.7) scale(1.09 0.96)" font-size="12">(a)</text>
<text transform="translate(280 15.9) scale(1.09 0.96)" font-size="12">(b)</text>
<text transform="translate(8 255.4) scale(1.08 0.95)" font-size="12">(c)</text>
<text transform="translate(273.1 244.3) scale(1.045 1.09)" font-size="13">(d)</text>
<text x="168.5" y="209.8" font-size="10">X (m)</text>
<text x="432.7" y="210.5" font-size="10">X (m)</text>
<text x="161.2" y="448.4" font-size="10">X (m)</text>
<text x="433.8" y="449" font-size="10.4">X (m)</text>
<text transform="translate(23.8 98.9) rotate(-90)" text-anchor="middle" font-size="11.5">Depth (m)</text>
<text transform="translate(289.8 100.4) rotate(-90)" text-anchor="middle" font-size="11">Velocity (m/s)</text>
<text transform="translate(17.6 338.7) rotate(-90)" text-anchor="middle" font-size="11.5">Depth (m)</text>
<text transform="translate(285 331.7) rotate(-90)" text-anchor="middle" font-size="11">Velocity (m/s)</text>
</g>
<g font-family="Liberation Serif, Times New Roman, serif" fill="#111" font-size="10.15">
<path d="M145 23.5H167.8" stroke="#111" stroke-width="0.75"/><circle cx="156.4" cy="23.5" r="1.5" fill="#000"/>
<text x="170.6" y="27.2">Stoker Theory Solution</text>
<path d="M145 36.1H167.8" stroke="#f00" stroke-width="0.75"/><circle cx="156.4" cy="36.1" r="1.5" fill="#f00"/>
<text x="170.6" y="39.9">SPH-SWE</text>

<path d="M318.3 17.7H340.1" stroke="#111" stroke-width="0.75"/><circle cx="329.4" cy="17.7" r="1.5" fill="#000"/>
<text x="343" y="21.4">Stoker Theory Solution</text>
<path d="M450.1 17.7H472.8" stroke="#f00" stroke-width="0.75"/><circle cx="461.5" cy="17.7" r="1.5" fill="#f00"/>
<text x="475.4" y="21.4">SPH-SWE</text>

<path d="M138.2 264.1H161.2" stroke="#111" stroke-width="0.75"/><circle cx="149.6" cy="264.1" r="1.5" fill="#000"/>
<text x="163.6" y="267.8">Stoker Theory Solution</text>
<path d="M138.2 276.5H161.2" stroke="#f00" stroke-width="0.75"/><circle cx="149.6" cy="276.5" r="1.5" fill="#f00"/>
<text x="163.6" y="280.1">SPH-SWE</text>

<path d="M313.7 245.1H336.6" stroke="#111" stroke-width="0.75"/><circle cx="325.3" cy="245.1" r="1.5" fill="#000"/>
<text x="339.6" y="249" font-size="10.6">Stoker Theory Solution</text>
<path d="M452.3 245.1H475.6" stroke="#f00" stroke-width="0.75"/><circle cx="464.2" cy="245.1" r="1.5" fill="#f00"/>
<text x="478.6" y="249" font-size="10.4">SPH-SWE</text>
</g>

</svg>
</body></html>
